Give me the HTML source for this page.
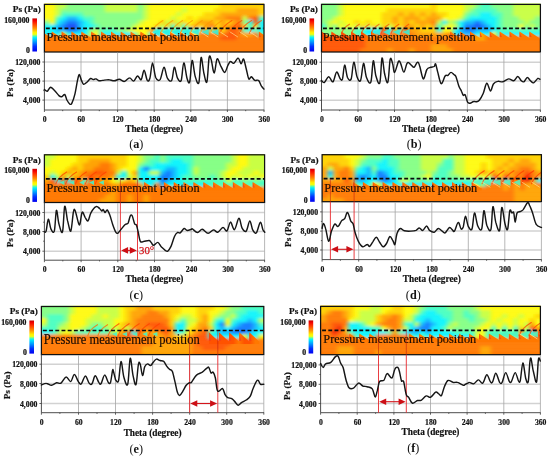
<!DOCTYPE html>
<html lang="en">
<head>
<meta charset="utf-8">
<title>Pressure measurement position</title>
<style>
html,body{margin:0;padding:0;background:#fff;}
body{width:550px;height:458px;overflow:hidden;}
svg{display:block;}
text{font-family:"Liberation Serif",serif;fill:#111;}
.b{font-weight:bold;stroke:#111;stroke-width:0.18px;}
.r{font-weight:normal;}
.g{stroke:#d2d2d2;stroke-width:1.5;fill:none;}
.v{stroke:#a4a4a4;stroke-width:0.8;fill:none;}
</style>
</head>
<body>
<svg width="550" height="458" viewBox="0 0 550 458">
<defs>
<linearGradient id="cb" x1="0" y1="0" x2="0" y2="1">
<stop offset="0" stop-color="#c00000"/>
<stop offset="0.06" stop-color="#f00000"/>
<stop offset="0.15" stop-color="#ff3000"/>
<stop offset="0.3" stop-color="#ff9000"/>
<stop offset="0.42" stop-color="#fff000"/>
<stop offset="0.48" stop-color="#f0ff10"/>
<stop offset="0.53" stop-color="#60ffa0"/>
<stop offset="0.58" stop-color="#00f0ff"/>
<stop offset="0.7" stop-color="#00a0ff"/>
<stop offset="0.85" stop-color="#0030ff"/>
<stop offset="1" stop-color="#0000f0"/>
</linearGradient>
<filter id="bl" x="-5%" y="-20%" width="110%" height="140%"><feGaussianBlur stdDeviation="0.8 1.4"/></filter>
</defs>
<rect width="550" height="458" fill="#fff"/>

<g>
<defs>
<linearGradient id="ga0" gradientUnits="userSpaceOnUse" x1="44.4" y1="0" x2="264.0" y2="0"><stop offset="0.0125" stop-color="#fffa08"/><stop offset="0.0375" stop-color="#fffa08"/><stop offset="0.0625" stop-color="#c8ff40"/><stop offset="0.0875" stop-color="#c8ff40"/><stop offset="0.1125" stop-color="#84ff84"/><stop offset="0.2625" stop-color="#84ff84"/><stop offset="0.2875" stop-color="#c8ff40"/><stop offset="0.4125" stop-color="#c8ff40"/><stop offset="0.4375" stop-color="#84ff84"/><stop offset="0.4625" stop-color="#c8ff40"/><stop offset="0.4875" stop-color="#fffa08"/><stop offset="0.7875" stop-color="#fffa08"/><stop offset="0.8125" stop-color="#ffd200"/><stop offset="0.9875" stop-color="#ffd200"/></linearGradient>
<linearGradient id="ga1" gradientUnits="userSpaceOnUse" x1="44.4" y1="0" x2="264.0" y2="0"><stop offset="0.0125" stop-color="#fffa08"/><stop offset="0.0375" stop-color="#fffa08"/><stop offset="0.0625" stop-color="#c8ff40"/><stop offset="0.0875" stop-color="#84ff84"/><stop offset="0.2625" stop-color="#84ff84"/><stop offset="0.2875" stop-color="#c8ff40"/><stop offset="0.4125" stop-color="#c8ff40"/><stop offset="0.4375" stop-color="#84ff84"/><stop offset="0.4625" stop-color="#c8ff40"/><stop offset="0.4875" stop-color="#fffa08"/><stop offset="0.6125" stop-color="#fffa08"/><stop offset="0.6375" stop-color="#c8ff40"/><stop offset="0.6625" stop-color="#fffa08"/><stop offset="0.7625" stop-color="#fffa08"/><stop offset="0.7875" stop-color="#ffd200"/><stop offset="0.8625" stop-color="#ffd200"/><stop offset="0.8875" stop-color="#ffa200"/><stop offset="0.9625" stop-color="#ffa200"/><stop offset="0.9875" stop-color="#ffd200"/></linearGradient>
<linearGradient id="ga2" gradientUnits="userSpaceOnUse" x1="44.4" y1="0" x2="264.0" y2="0"><stop offset="0.0125" stop-color="#fffa08"/><stop offset="0.0375" stop-color="#fffa08"/><stop offset="0.0625" stop-color="#c8ff40"/><stop offset="0.0875" stop-color="#48ffc0"/><stop offset="0.1625" stop-color="#48ffc0"/><stop offset="0.1875" stop-color="#84ff84"/><stop offset="0.4375" stop-color="#84ff84"/><stop offset="0.4625" stop-color="#c8ff40"/><stop offset="0.4875" stop-color="#fffa08"/><stop offset="0.5875" stop-color="#fffa08"/><stop offset="0.6125" stop-color="#c8ff40"/><stop offset="0.6375" stop-color="#fffa08"/><stop offset="0.7125" stop-color="#fffa08"/><stop offset="0.7375" stop-color="#ffd200"/><stop offset="0.7875" stop-color="#ffd200"/><stop offset="0.8125" stop-color="#ffa200"/><stop offset="0.9625" stop-color="#ffa200"/><stop offset="0.9875" stop-color="#ffd200"/></linearGradient>
<linearGradient id="ga3" gradientUnits="userSpaceOnUse" x1="44.4" y1="0" x2="264.0" y2="0"><stop offset="0.0125" stop-color="#fffa08"/><stop offset="0.0375" stop-color="#fffa08"/><stop offset="0.0625" stop-color="#48ffc0"/><stop offset="0.0875" stop-color="#0cf4fc"/><stop offset="0.1125" stop-color="#08b8ff"/><stop offset="0.1375" stop-color="#08b8ff"/><stop offset="0.1625" stop-color="#0cf4fc"/><stop offset="0.1875" stop-color="#48ffc0"/><stop offset="0.2125" stop-color="#48ffc0"/><stop offset="0.2375" stop-color="#84ff84"/><stop offset="0.4375" stop-color="#84ff84"/><stop offset="0.4625" stop-color="#c8ff40"/><stop offset="0.4875" stop-color="#fffa08"/><stop offset="0.5625" stop-color="#fffa08"/><stop offset="0.5875" stop-color="#c8ff40"/><stop offset="0.6125" stop-color="#fffa08"/><stop offset="0.6375" stop-color="#fffa08"/><stop offset="0.6625" stop-color="#ffd200"/><stop offset="0.6875" stop-color="#fffa08"/><stop offset="0.7125" stop-color="#ffd200"/><stop offset="0.7625" stop-color="#ffd200"/><stop offset="0.7875" stop-color="#ffa200"/><stop offset="0.8125" stop-color="#ffa200"/><stop offset="0.8375" stop-color="#ff7800"/><stop offset="0.8875" stop-color="#ff7800"/><stop offset="0.9125" stop-color="#c8ff40"/><stop offset="0.9375" stop-color="#ff7800"/><stop offset="0.9625" stop-color="#ff5200"/><stop offset="0.9875" stop-color="#48ffc0"/></linearGradient>
<linearGradient id="ga4" gradientUnits="userSpaceOnUse" x1="44.4" y1="0" x2="264.0" y2="0"><stop offset="0.0125" stop-color="#84ff84"/><stop offset="0.0375" stop-color="#fffa08"/><stop offset="0.0625" stop-color="#0cf4fc"/><stop offset="0.0875" stop-color="#08b8ff"/><stop offset="0.1125" stop-color="#0c78ff"/><stop offset="0.1375" stop-color="#0c78ff"/><stop offset="0.1625" stop-color="#08b8ff"/><stop offset="0.1875" stop-color="#0cf4fc"/><stop offset="0.2125" stop-color="#48ffc0"/><stop offset="0.2375" stop-color="#84ff84"/><stop offset="0.4125" stop-color="#84ff84"/><stop offset="0.4375" stop-color="#c8ff40"/><stop offset="0.4625" stop-color="#fffa08"/><stop offset="0.5125" stop-color="#fffa08"/><stop offset="0.5375" stop-color="#ffd200"/><stop offset="0.5625" stop-color="#c8ff40"/><stop offset="0.5875" stop-color="#ffd200"/><stop offset="0.6125" stop-color="#c8ff40"/><stop offset="0.6375" stop-color="#ffd200"/><stop offset="0.6625" stop-color="#fffa08"/><stop offset="0.6875" stop-color="#ffd200"/><stop offset="0.7125" stop-color="#ffa200"/><stop offset="0.7625" stop-color="#ffa200"/><stop offset="0.7875" stop-color="#ffd200"/><stop offset="0.8125" stop-color="#ffa200"/><stop offset="0.8375" stop-color="#ffd200"/><stop offset="0.8625" stop-color="#ffa200"/><stop offset="0.8875" stop-color="#ff7800"/><stop offset="0.9125" stop-color="#84ff84"/><stop offset="0.9375" stop-color="#0cf4fc"/><stop offset="0.9625" stop-color="#ff5200"/><stop offset="0.9875" stop-color="#0cf4fc"/></linearGradient>
<linearGradient id="ga5" gradientUnits="userSpaceOnUse" x1="44.4" y1="0" x2="264.0" y2="0"><stop offset="0.0125" stop-color="#0cf4fc"/><stop offset="0.0375" stop-color="#0cf4fc"/><stop offset="0.0625" stop-color="#08b8ff"/><stop offset="0.0875" stop-color="#0c78ff"/><stop offset="0.1125" stop-color="#1440f4"/><stop offset="0.1375" stop-color="#1440f4"/><stop offset="0.1625" stop-color="#08b8ff"/><stop offset="0.1875" stop-color="#0cf4fc"/><stop offset="0.2125" stop-color="#0cf4fc"/><stop offset="0.2375" stop-color="#48ffc0"/><stop offset="0.2625" stop-color="#84ff84"/><stop offset="0.3875" stop-color="#84ff84"/><stop offset="0.4125" stop-color="#c8ff40"/><stop offset="0.4375" stop-color="#fffa08"/><stop offset="0.4875" stop-color="#fffa08"/><stop offset="0.5125" stop-color="#ffd200"/><stop offset="0.5375" stop-color="#c8ff40"/><stop offset="0.5625" stop-color="#ffd200"/><stop offset="0.5875" stop-color="#48ffc0"/><stop offset="0.6125" stop-color="#ffd200"/><stop offset="0.6375" stop-color="#48ffc0"/><stop offset="0.6625" stop-color="#ffd200"/><stop offset="0.6875" stop-color="#ffa200"/><stop offset="0.7125" stop-color="#ffd200"/><stop offset="0.7375" stop-color="#ffa200"/><stop offset="0.7625" stop-color="#ff7800"/><stop offset="0.7875" stop-color="#ffd200"/><stop offset="0.8125" stop-color="#ffa200"/><stop offset="0.8375" stop-color="#ffa200"/><stop offset="0.8625" stop-color="#ff7800"/><stop offset="0.8875" stop-color="#ff5200"/><stop offset="0.9125" stop-color="#ffd200"/><stop offset="0.9375" stop-color="#48ffc0"/><stop offset="0.9625" stop-color="#ffd200"/><stop offset="0.9875" stop-color="#0cf4fc"/></linearGradient>
<linearGradient id="ga6" gradientUnits="userSpaceOnUse" x1="44.4" y1="0" x2="264.0" y2="0"><stop offset="0.0125" stop-color="#0cf4fc"/><stop offset="0.0375" stop-color="#0cf4fc"/><stop offset="0.0625" stop-color="#08b8ff"/><stop offset="0.0875" stop-color="#08b8ff"/><stop offset="0.1125" stop-color="#0c78ff"/><stop offset="0.1375" stop-color="#0c78ff"/><stop offset="0.1625" stop-color="#08b8ff"/><stop offset="0.1875" stop-color="#0cf4fc"/><stop offset="0.2125" stop-color="#84ff84"/><stop offset="0.2375" stop-color="#c8ff40"/><stop offset="0.2625" stop-color="#48ffc0"/><stop offset="0.3125" stop-color="#48ffc0"/><stop offset="0.3375" stop-color="#84ff84"/><stop offset="0.3625" stop-color="#84ff84"/><stop offset="0.3875" stop-color="#c8ff40"/><stop offset="0.4125" stop-color="#fffa08"/><stop offset="0.4625" stop-color="#fffa08"/><stop offset="0.4875" stop-color="#ffa200"/><stop offset="0.5125" stop-color="#0cf4fc"/><stop offset="0.5375" stop-color="#48ffc0"/><stop offset="0.5625" stop-color="#0cf4fc"/><stop offset="0.5875" stop-color="#48ffc0"/><stop offset="0.6125" stop-color="#0cf4fc"/><stop offset="0.6375" stop-color="#48ffc0"/><stop offset="0.6625" stop-color="#0cf4fc"/><stop offset="0.6875" stop-color="#48ffc0"/><stop offset="0.7125" stop-color="#0cf4fc"/><stop offset="0.7375" stop-color="#ffa200"/><stop offset="0.7625" stop-color="#48ffc0"/><stop offset="0.7875" stop-color="#ffa200"/><stop offset="0.8125" stop-color="#ffd200"/><stop offset="0.8375" stop-color="#ff7800"/><stop offset="0.8625" stop-color="#ff5200"/><stop offset="0.8875" stop-color="#ff7800"/><stop offset="0.9125" stop-color="#48ffc0"/><stop offset="0.9375" stop-color="#0cf4fc"/><stop offset="0.9625" stop-color="#48ffc0"/><stop offset="0.9875" stop-color="#0cf4fc"/></linearGradient>
<linearGradient id="ga7" gradientUnits="userSpaceOnUse" x1="44.4" y1="0" x2="264.0" y2="0"><stop offset="0.0125" stop-color="#0cf4fc"/><stop offset="0.0625" stop-color="#0cf4fc"/><stop offset="0.0875" stop-color="#c8ff40"/><stop offset="0.1125" stop-color="#0cf4fc"/><stop offset="0.1875" stop-color="#0cf4fc"/><stop offset="0.2125" stop-color="#c8ff40"/><stop offset="0.2375" stop-color="#fffa08"/><stop offset="0.2625" stop-color="#0cf4fc"/><stop offset="0.3875" stop-color="#0cf4fc"/><stop offset="0.4125" stop-color="#48ffc0"/><stop offset="0.4375" stop-color="#fffa08"/><stop offset="0.4625" stop-color="#fffa08"/><stop offset="0.4875" stop-color="#0cf4fc"/><stop offset="0.6375" stop-color="#0cf4fc"/><stop offset="0.6625" stop-color="#48ffc0"/><stop offset="0.6875" stop-color="#fffa08"/><stop offset="0.7125" stop-color="#ff7800"/><stop offset="0.8125" stop-color="#ff7800"/><stop offset="0.8375" stop-color="#ff5200"/><stop offset="0.8625" stop-color="#ff5200"/><stop offset="0.8875" stop-color="#ff7800"/><stop offset="0.9125" stop-color="#ffa200"/><stop offset="0.9375" stop-color="#ffa200"/><stop offset="0.9625" stop-color="#ff7800"/><stop offset="0.9875" stop-color="#48ffc0"/></linearGradient>
<linearGradient id="ga8" gradientUnits="userSpaceOnUse" x1="44.4" y1="0" x2="264.0" y2="0"><stop offset="0.0125" stop-color="#ff7800"/><stop offset="0.7875" stop-color="#ff7800"/><stop offset="0.8125" stop-color="#ff5200"/><stop offset="0.8625" stop-color="#ff5200"/><stop offset="0.8875" stop-color="#ff7800"/><stop offset="0.9875" stop-color="#ff7800"/></linearGradient>
<linearGradient id="ga9" gradientUnits="userSpaceOnUse" x1="44.4" y1="0" x2="264.0" y2="0"><stop offset="0.0125" stop-color="#ff7800"/><stop offset="0.9875" stop-color="#ff7800"/></linearGradient>
<linearGradient id="ga10" gradientUnits="userSpaceOnUse" x1="44.4" y1="0" x2="264.0" y2="0"><stop offset="0.0125" stop-color="#ff7800"/><stop offset="0.9875" stop-color="#ff7800"/></linearGradient>
<linearGradient id="ga11" gradientUnits="userSpaceOnUse" x1="44.4" y1="0" x2="264.0" y2="0"><stop offset="0.0125" stop-color="#ff7800"/><stop offset="0.9875" stop-color="#ff7800"/></linearGradient>
<clipPath id="cpa"><rect x="44.4" y="3.6" width="219.6" height="48.4"/></clipPath>
</defs>
<g clip-path="url(#cpa)">
<g filter="url(#bl)">
<rect x="36.4" y="-3.6" width="235.6" height="12.10" fill="url(#ga0)"/>
<rect x="36.4" y="8.3" width="235.6" height="4.10" fill="url(#ga1)"/>
<rect x="36.4" y="12.3" width="235.6" height="4.10" fill="url(#ga2)"/>
<rect x="36.4" y="16.3" width="235.6" height="4.10" fill="url(#ga3)"/>
<rect x="36.4" y="20.3" width="235.6" height="4.10" fill="url(#ga4)"/>
<rect x="36.4" y="24.3" width="235.6" height="4.10" fill="url(#ga5)"/>
<rect x="36.4" y="28.3" width="235.6" height="4.10" fill="url(#ga6)"/>
<rect x="36.4" y="32.4" width="235.6" height="4.10" fill="url(#ga7)"/>
<rect x="36.4" y="36.4" width="235.6" height="4.10" fill="url(#ga8)"/>
<rect x="36.4" y="40.4" width="235.6" height="4.10" fill="url(#ga9)"/>
<rect x="36.4" y="44.4" width="235.6" height="4.10" fill="url(#ga10)"/>
<rect x="36.4" y="48.4" width="235.6" height="14.10" fill="url(#ga11)"/>
</g>
<path d="M41.9,40.2V31.6L51.8,37.9V40.2zM51.8,40.2V31.6L61.7,37.9V40.2zM61.7,40.2V31.6L71.5,37.9V40.2zM71.5,40.2V31.6L81.4,37.9V40.2zM81.4,40.2V31.6L91.2,37.9V40.2zM91.2,40.2V31.6L101.1,37.9V40.2zM101.1,40.2V31.6L111.0,37.9V40.2zM111.0,40.2V31.6L120.8,37.9V40.2zM120.8,40.2V31.6L130.7,37.9V40.2zM130.7,40.2V31.6L140.5,37.9V40.2zM140.5,40.2V31.6L150.4,37.9V40.2zM150.4,40.2V31.6L160.3,37.9V40.2zM160.3,40.2V31.6L170.1,37.9V40.2zM170.1,40.2V31.6L180.0,37.9V40.2zM180.0,40.2V31.6L189.8,37.9V40.2zM189.8,40.2V31.6L199.7,37.9V40.2zM258.9,40.2V31.6L268.7,37.9V40.2z" fill="url(#ga8)"/>
<path d="M41.9,37.1V31.9L44.1,37.1zM51.8,37.1V31.9L54.0,37.1zM61.7,37.1V31.9L63.9,37.1zM71.5,37.1V31.9L73.7,37.1zM81.4,37.1V31.9L83.6,37.1zM91.2,37.1V31.9L93.4,37.1zM101.1,37.1V31.9L103.3,37.1zM111.0,37.1V31.9L113.2,37.1zM120.8,37.1V31.9L123.0,37.1zM130.7,37.1V31.9L132.9,37.1zM140.5,37.1V31.9L142.7,37.1zM150.4,37.1V31.9L152.6,37.1zM160.3,37.1V31.9L162.5,37.1zM170.1,37.1V31.9L172.3,37.1zM180.0,37.1V31.9L182.2,37.1zM189.8,37.1V31.9L192.0,37.1zM258.9,37.1V31.9L261.1,37.1z" fill="#f4401a" opacity="0.75"/>
<path d="M152.4,32.0L159.4,29.0V35.6zM162.3,32.0L169.2,29.0V35.6zM172.1,32.0L179.1,29.0V35.6zM182.0,32.0L188.9,29.0V35.6zM191.8,32.0L198.8,29.0V35.6zM201.7,32.0L208.7,29.0V35.6zM211.6,32.0L218.5,29.0V35.6z" fill="#30f0e0" opacity="0.85"/>
<path d="M150.7,33.5Q152.9,26.5 162.9,20.5M160.6,33.5Q162.8,26.5 172.8,20.5M170.4,33.5Q172.6,26.5 182.6,20.5M180.3,33.5Q182.5,26.5 192.5,20.5M190.1,33.5Q192.3,26.5 202.3,20.5M200.0,33.5Q202.2,26.5 212.2,20.5M209.9,33.5Q212.1,26.5 222.1,20.5" fill="none" stroke="#ff9a00" stroke-width="1.1" stroke-linecap="round" opacity="0.75"/>
<path d="M219.7,33.5Q221.9,26.5 231.9,20.5M229.6,33.5Q231.8,26.5 241.8,20.5M239.4,33.5Q241.6,26.5 251.6,20.5M249.3,33.5Q251.5,26.5 261.5,20.5" fill="none" stroke="#ff5000" stroke-width="1.1" stroke-linecap="round" opacity="0.75"/>
<path d="M150.9,31.8L159.0,37.0M160.8,31.8L168.9,37.0M170.6,31.8L178.7,37.0M180.5,31.8L188.6,37.0M190.3,31.8L198.4,37.0M200.2,31.8L208.3,37.0M210.1,31.8L218.2,37.0M219.9,31.8L228.0,37.0M229.8,31.8L237.9,37.0M239.6,31.8L247.7,37.0M249.5,31.8L257.6,37.0" fill="none" stroke="#fff0a0" stroke-width="0.7" opacity="0.85"/>
</g>
<line x1="45.9" y1="28.4" x2="263.5" y2="28.4" stroke="#0a0a0a" stroke-width="1.7" stroke-dasharray="3.9 2.3"/>
<rect x="44.4" y="4.4" width="219.6" height="47.6" fill="none" stroke="#111" stroke-width="1.25"/>
<text transform="translate(46.6,41.4) scale(1,1.09)" font-size="12.30" class="r" style="fill:#1c0c04;stroke:#1c0c04;stroke-width:0.18">Pressure measurement position</text>
<text x="40.8" y="12.2" font-size="9.25" class="b" text-anchor="end">Ps (Pa)</text>
<rect x="32.4" y="18.4" width="4.6" height="33.1" fill="url(#cb)"/>
<text transform="translate(29.4,22.8) scale(1.08,1)" font-size="7.2" class="b" text-anchor="end" style="stroke:#111;stroke-width:0.22">160,000</text>
<text transform="translate(30.0,53.0) scale(1.08,1)" font-size="7.2" class="b" text-anchor="end" style="stroke:#111;stroke-width:0.22">0</text>
<line x1="44.4" y1="62.0" x2="264.0" y2="62.0" class="g"/>
<line x1="44.4" y1="81.1" x2="264.0" y2="81.1" class="g"/>
<line x1="44.4" y1="100.1" x2="264.0" y2="100.1" class="g"/>
<line x1="81.0" y1="52.6" x2="81.0" y2="110.0" class="v"/>
<line x1="117.6" y1="52.6" x2="117.6" y2="110.0" class="v"/>
<line x1="154.2" y1="52.6" x2="154.2" y2="110.0" class="v"/>
<line x1="190.8" y1="52.6" x2="190.8" y2="110.0" class="v"/>
<line x1="227.4" y1="52.6" x2="227.4" y2="110.0" class="v"/>
<line x1="264.0" y1="52.6" x2="264.0" y2="110.0" class="v"/>
<path d="M44.4,52.0V110.0H264.3" fill="none" stroke="#3a3a3a" stroke-width="0.9"/>
<path d="M44.4,62.0h-2M44.4,81.1h-2M44.4,100.1h-2M44.4,71.5h-1.2M44.4,90.6h-1.2M44.4,110.0v2M81.0,110.0v2M117.6,110.0v2M154.2,110.0v2M190.8,110.0v2M227.4,110.0v2M264.0,110.0v2M62.7,110.0v1.2M99.3,110.0v1.2M135.9,110.0v1.2M172.5,110.0v1.2M209.1,110.0v1.2M245.7,110.0v1.2" stroke="#3a3a3a" stroke-width="0.8" fill="none"/>
<text transform="translate(40.4,65.0) scale(1.08,1)" font-size="7.2" class="b" text-anchor="end" style="stroke:#111;stroke-width:0.22">120,000</text>
<text transform="translate(40.4,84.1) scale(1.08,1)" font-size="7.2" class="b" text-anchor="end" style="stroke:#111;stroke-width:0.22">8,000</text>
<text transform="translate(40.4,103.1) scale(1.08,1)" font-size="7.2" class="b" text-anchor="end" style="stroke:#111;stroke-width:0.22">4,000</text>
<text transform="translate(13.4,83.0) rotate(-90)" font-size="9.2" class="b" text-anchor="middle">Ps (Pa)</text>
<text x="44.7" y="121.8" font-size="7.7" class="b" text-anchor="middle">0</text>
<text x="81.3" y="121.8" font-size="7.7" class="b" text-anchor="middle">60</text>
<text x="117.9" y="121.8" font-size="7.7" class="b" text-anchor="middle">120</text>
<text x="154.5" y="121.8" font-size="7.7" class="b" text-anchor="middle">180</text>
<text x="191.1" y="121.8" font-size="7.7" class="b" text-anchor="middle">240</text>
<text x="227.7" y="121.8" font-size="7.7" class="b" text-anchor="middle">300</text>
<text x="264.3" y="121.8" font-size="7.7" class="b" text-anchor="middle">360</text>
<text x="154.2" y="131.6" font-size="9.3" class="b" text-anchor="middle">Theta (degree)</text>
<path d="M44.4,89.5C44.8,89.8 46.3,91.6 47.3,91.3C48.3,90.9 49.3,87.5 50.5,87.3C51.7,87.2 53.1,89.2 54.5,90.5C56.0,91.9 57.7,94.6 58.9,95.6C60.1,96.7 60.8,96.8 61.8,96.7C62.8,96.5 63.9,93.9 64.7,94.5C65.6,95.0 66.1,98.4 66.9,100.0C67.8,101.6 69.0,103.6 69.8,104.1C70.7,104.6 71.2,104.6 72.0,102.9C72.8,101.3 74.0,97.9 74.9,94.2C75.8,90.4 76.8,83.6 77.5,80.4C78.3,77.1 78.6,74.5 79.3,74.5C79.9,74.5 80.7,78.7 81.5,80.4C82.2,82.0 82.8,83.9 83.6,84.3C84.5,84.7 85.4,83.5 86.5,82.5C87.7,81.6 89.5,79.0 90.6,78.5C91.7,78.0 92.2,79.6 93.1,79.6C94.0,79.7 95.0,78.7 96.0,78.9C97.0,79.1 97.8,80.6 98.9,80.8C100.0,81.0 101.0,80.6 102.5,80.4C104.1,80.2 106.4,79.6 108.4,79.6C110.3,79.7 112.4,80.8 114.2,80.8C116.0,80.8 117.6,79.2 119.3,79.3C121.0,79.4 122.7,81.6 124.5,81.4C126.2,81.1 128.0,77.9 129.5,77.9C131.1,77.8 132.3,81.4 133.6,81.1C135.0,80.8 136.3,76.2 137.5,76.0C138.8,75.8 140.1,80.6 141.2,79.6C142.3,78.7 143.1,70.1 144.1,70.2C145.1,70.3 146.3,79.0 147.3,80.4C148.3,81.7 149.0,81.1 149.9,78.2C150.8,75.3 151.6,63.0 152.5,62.9C153.5,62.8 154.5,74.7 155.7,77.5C157.0,80.2 158.7,81.3 160.1,79.6C161.5,77.9 162.8,67.5 164.0,67.3C165.2,67.0 166.1,76.0 167.4,78.2C168.6,80.4 170.6,82.2 171.7,80.4C172.9,78.5 173.4,67.6 174.3,67.3C175.3,66.9 176.4,76.0 177.5,78.2C178.7,80.4 180.1,82.9 181.2,80.4C182.2,77.8 182.8,63.3 183.8,62.9C184.8,62.5 186.0,75.0 187.0,78.2C188.0,81.3 188.9,84.8 189.7,81.8C190.6,78.9 191.2,61.3 192.1,60.4C193.0,59.6 194.1,73.0 195.3,76.7C196.4,80.4 197.9,85.7 198.9,82.5C199.9,79.3 200.2,59.0 201.1,57.5C201.9,56.1 203.0,69.8 204.0,73.8C205.0,77.9 206.1,84.5 206.9,81.8C207.8,79.1 208.4,61.2 209.1,57.5C209.8,53.9 210.4,57.4 211.3,60.0C212.1,62.6 213.2,73.3 214.2,73.1C215.2,72.9 216.0,60.2 217.1,59.0C218.2,57.8 219.5,63.6 220.7,65.8C222.0,68.0 223.4,72.5 224.7,72.4C225.9,72.2 227.0,66.9 228.0,65.1C229.0,63.3 229.5,61.7 230.5,61.5C231.4,61.2 232.5,63.9 233.8,63.3C235.1,62.8 237.0,58.0 238.2,58.1C239.4,58.2 240.2,63.8 241.1,63.9C242.0,64.1 242.7,58.2 243.6,59.0C244.4,59.8 245.3,65.4 246.2,68.7C247.1,72.0 248.0,77.6 248.8,78.9C249.6,80.2 250.3,76.5 251.3,76.7C252.3,77.0 253.7,79.8 254.9,80.4C256.1,81.0 257.5,79.4 258.5,80.4C259.6,81.3 260.6,84.7 261.5,86.2C262.4,87.6 263.5,88.6 263.9,89.1" fill="none" stroke="#161616" stroke-width="1.45" stroke-linejoin="round" stroke-linecap="round"/>
<text x="136.3" y="148.3" font-size="12.2" class="r" text-anchor="middle">(<tspan style="font-weight:bold">a</tspan>)</text>
</g>
<g>
<defs>
<linearGradient id="gb0" gradientUnits="userSpaceOnUse" x1="321.5" y1="0" x2="540.4" y2="0"><stop offset="0.0125" stop-color="#84ff84"/><stop offset="0.0625" stop-color="#84ff84"/><stop offset="0.0875" stop-color="#c8ff40"/><stop offset="0.1125" stop-color="#fffa08"/><stop offset="0.4875" stop-color="#fffa08"/><stop offset="0.5125" stop-color="#ffd200"/><stop offset="0.5375" stop-color="#fffa08"/><stop offset="0.6375" stop-color="#fffa08"/><stop offset="0.6625" stop-color="#c8ff40"/><stop offset="0.6875" stop-color="#c8ff40"/><stop offset="0.7125" stop-color="#84ff84"/><stop offset="0.7375" stop-color="#48ffc0"/><stop offset="0.7625" stop-color="#48ffc0"/><stop offset="0.7875" stop-color="#84ff84"/><stop offset="0.8625" stop-color="#84ff84"/><stop offset="0.8875" stop-color="#c8ff40"/><stop offset="0.9875" stop-color="#c8ff40"/></linearGradient>
<linearGradient id="gb1" gradientUnits="userSpaceOnUse" x1="321.5" y1="0" x2="540.4" y2="0"><stop offset="0.0125" stop-color="#84ff84"/><stop offset="0.0625" stop-color="#84ff84"/><stop offset="0.0875" stop-color="#c8ff40"/><stop offset="0.1125" stop-color="#fffa08"/><stop offset="0.2875" stop-color="#fffa08"/><stop offset="0.3125" stop-color="#ffd200"/><stop offset="0.5125" stop-color="#ffd200"/><stop offset="0.5375" stop-color="#fffa08"/><stop offset="0.6375" stop-color="#fffa08"/><stop offset="0.6625" stop-color="#c8ff40"/><stop offset="0.6875" stop-color="#84ff84"/><stop offset="0.7125" stop-color="#48ffc0"/><stop offset="0.7875" stop-color="#48ffc0"/><stop offset="0.8125" stop-color="#84ff84"/><stop offset="0.8625" stop-color="#84ff84"/><stop offset="0.8875" stop-color="#c8ff40"/><stop offset="0.9875" stop-color="#c8ff40"/></linearGradient>
<linearGradient id="gb2" gradientUnits="userSpaceOnUse" x1="321.5" y1="0" x2="540.4" y2="0"><stop offset="0.0125" stop-color="#84ff84"/><stop offset="0.0625" stop-color="#84ff84"/><stop offset="0.0875" stop-color="#c8ff40"/><stop offset="0.1125" stop-color="#fffa08"/><stop offset="0.2625" stop-color="#fffa08"/><stop offset="0.2875" stop-color="#ffd200"/><stop offset="0.3375" stop-color="#ffd200"/><stop offset="0.3625" stop-color="#ffa200"/><stop offset="0.3875" stop-color="#ffd200"/><stop offset="0.4125" stop-color="#ffa200"/><stop offset="0.4375" stop-color="#ffd200"/><stop offset="0.4625" stop-color="#ffa200"/><stop offset="0.4875" stop-color="#ffd200"/><stop offset="0.5125" stop-color="#ffa200"/><stop offset="0.5375" stop-color="#ffd200"/><stop offset="0.5625" stop-color="#ffd200"/><stop offset="0.5875" stop-color="#fffa08"/><stop offset="0.6375" stop-color="#fffa08"/><stop offset="0.6625" stop-color="#84ff84"/><stop offset="0.6875" stop-color="#48ffc0"/><stop offset="0.7125" stop-color="#48ffc0"/><stop offset="0.7375" stop-color="#0cf4fc"/><stop offset="0.7625" stop-color="#0cf4fc"/><stop offset="0.7875" stop-color="#48ffc0"/><stop offset="0.8125" stop-color="#48ffc0"/><stop offset="0.8375" stop-color="#84ff84"/><stop offset="0.8625" stop-color="#84ff84"/><stop offset="0.8875" stop-color="#c8ff40"/><stop offset="0.9875" stop-color="#c8ff40"/></linearGradient>
<linearGradient id="gb3" gradientUnits="userSpaceOnUse" x1="321.5" y1="0" x2="540.4" y2="0"><stop offset="0.0125" stop-color="#84ff84"/><stop offset="0.0375" stop-color="#84ff84"/><stop offset="0.0625" stop-color="#c8ff40"/><stop offset="0.0875" stop-color="#fffa08"/><stop offset="0.2625" stop-color="#fffa08"/><stop offset="0.2875" stop-color="#ffd200"/><stop offset="0.3125" stop-color="#ffd200"/><stop offset="0.3375" stop-color="#ffa200"/><stop offset="0.3625" stop-color="#ffd200"/><stop offset="0.3875" stop-color="#ffa200"/><stop offset="0.4375" stop-color="#ffa200"/><stop offset="0.4625" stop-color="#ffd200"/><stop offset="0.4875" stop-color="#ffa200"/><stop offset="0.5375" stop-color="#ffa200"/><stop offset="0.5625" stop-color="#fffa08"/><stop offset="0.6125" stop-color="#fffa08"/><stop offset="0.6375" stop-color="#c8ff40"/><stop offset="0.6625" stop-color="#48ffc0"/><stop offset="0.6875" stop-color="#0cf4fc"/><stop offset="0.7875" stop-color="#0cf4fc"/><stop offset="0.8125" stop-color="#48ffc0"/><stop offset="0.8375" stop-color="#84ff84"/><stop offset="0.8875" stop-color="#84ff84"/><stop offset="0.9125" stop-color="#c8ff40"/><stop offset="0.9625" stop-color="#c8ff40"/><stop offset="0.9875" stop-color="#84ff84"/></linearGradient>
<linearGradient id="gb4" gradientUnits="userSpaceOnUse" x1="321.5" y1="0" x2="540.4" y2="0"><stop offset="0.0125" stop-color="#84ff84"/><stop offset="0.0375" stop-color="#c8ff40"/><stop offset="0.0625" stop-color="#fffa08"/><stop offset="0.0875" stop-color="#c8ff40"/><stop offset="0.1125" stop-color="#fffa08"/><stop offset="0.1375" stop-color="#fffa08"/><stop offset="0.1625" stop-color="#ffd200"/><stop offset="0.1875" stop-color="#fffa08"/><stop offset="0.2125" stop-color="#ffd200"/><stop offset="0.2375" stop-color="#fffa08"/><stop offset="0.2625" stop-color="#fffa08"/><stop offset="0.2875" stop-color="#ffd200"/><stop offset="0.3125" stop-color="#ffd200"/><stop offset="0.3375" stop-color="#ffa200"/><stop offset="0.3625" stop-color="#ffd200"/><stop offset="0.3875" stop-color="#ffa200"/><stop offset="0.4125" stop-color="#ffd200"/><stop offset="0.4375" stop-color="#ffa200"/><stop offset="0.4875" stop-color="#ffa200"/><stop offset="0.5125" stop-color="#ff7800"/><stop offset="0.5375" stop-color="#c8ff40"/><stop offset="0.5625" stop-color="#0cf4fc"/><stop offset="0.5875" stop-color="#c8ff40"/><stop offset="0.6125" stop-color="#84ff84"/><stop offset="0.6375" stop-color="#0cf4fc"/><stop offset="0.6625" stop-color="#08b8ff"/><stop offset="0.6875" stop-color="#08b8ff"/><stop offset="0.7125" stop-color="#0c78ff"/><stop offset="0.7375" stop-color="#08b8ff"/><stop offset="0.7625" stop-color="#0cf4fc"/><stop offset="0.7875" stop-color="#0cf4fc"/><stop offset="0.8125" stop-color="#48ffc0"/><stop offset="0.8375" stop-color="#84ff84"/><stop offset="0.9125" stop-color="#84ff84"/><stop offset="0.9375" stop-color="#c8ff40"/><stop offset="0.9625" stop-color="#84ff84"/><stop offset="0.9875" stop-color="#84ff84"/></linearGradient>
<linearGradient id="gb5" gradientUnits="userSpaceOnUse" x1="321.5" y1="0" x2="540.4" y2="0"><stop offset="0.0125" stop-color="#48ffc0"/><stop offset="0.0375" stop-color="#c8ff40"/><stop offset="0.0625" stop-color="#84ff84"/><stop offset="0.0875" stop-color="#fffa08"/><stop offset="0.1125" stop-color="#c8ff40"/><stop offset="0.1375" stop-color="#fffa08"/><stop offset="0.1625" stop-color="#c8ff40"/><stop offset="0.1875" stop-color="#ffd200"/><stop offset="0.2125" stop-color="#c8ff40"/><stop offset="0.2375" stop-color="#ffd200"/><stop offset="0.2625" stop-color="#c8ff40"/><stop offset="0.2875" stop-color="#ffd200"/><stop offset="0.3125" stop-color="#c8ff40"/><stop offset="0.3375" stop-color="#ffd200"/><stop offset="0.3625" stop-color="#ffd200"/><stop offset="0.3875" stop-color="#ffa200"/><stop offset="0.4125" stop-color="#ffa200"/><stop offset="0.4375" stop-color="#ffd200"/><stop offset="0.4625" stop-color="#ffa200"/><stop offset="0.4875" stop-color="#ffd200"/><stop offset="0.5125" stop-color="#ffa200"/><stop offset="0.5375" stop-color="#48ffc0"/><stop offset="0.5625" stop-color="#c8ff40"/><stop offset="0.5875" stop-color="#fffa08"/><stop offset="0.6125" stop-color="#c8ff40"/><stop offset="0.6375" stop-color="#0cf4fc"/><stop offset="0.6625" stop-color="#0c78ff"/><stop offset="0.6875" stop-color="#0c78ff"/><stop offset="0.7125" stop-color="#1440f4"/><stop offset="0.7375" stop-color="#0c78ff"/><stop offset="0.7625" stop-color="#08b8ff"/><stop offset="0.7875" stop-color="#0cf4fc"/><stop offset="0.8125" stop-color="#48ffc0"/><stop offset="0.8375" stop-color="#84ff84"/><stop offset="0.8875" stop-color="#84ff84"/><stop offset="0.9125" stop-color="#fffa08"/><stop offset="0.9375" stop-color="#84ff84"/><stop offset="0.9625" stop-color="#c8ff40"/><stop offset="0.9875" stop-color="#84ff84"/></linearGradient>
<linearGradient id="gb6" gradientUnits="userSpaceOnUse" x1="321.5" y1="0" x2="540.4" y2="0"><stop offset="0.0125" stop-color="#84ff84"/><stop offset="0.1375" stop-color="#84ff84"/><stop offset="0.1625" stop-color="#48ffc0"/><stop offset="0.1875" stop-color="#48ffc0"/><stop offset="0.2125" stop-color="#0cf4fc"/><stop offset="0.2625" stop-color="#0cf4fc"/><stop offset="0.2875" stop-color="#ff5200"/><stop offset="0.3125" stop-color="#0cf4fc"/><stop offset="0.3375" stop-color="#ffa200"/><stop offset="0.3625" stop-color="#48ffc0"/><stop offset="0.3875" stop-color="#ff5200"/><stop offset="0.4125" stop-color="#ffa200"/><stop offset="0.4375" stop-color="#ffa200"/><stop offset="0.4625" stop-color="#ffd200"/><stop offset="0.5125" stop-color="#ffd200"/><stop offset="0.5375" stop-color="#0cf4fc"/><stop offset="0.5625" stop-color="#fffa08"/><stop offset="0.5875" stop-color="#fffa08"/><stop offset="0.6125" stop-color="#0cf4fc"/><stop offset="0.6375" stop-color="#08b8ff"/><stop offset="0.6625" stop-color="#0c78ff"/><stop offset="0.6875" stop-color="#0c78ff"/><stop offset="0.7125" stop-color="#08b8ff"/><stop offset="0.7625" stop-color="#08b8ff"/><stop offset="0.7875" stop-color="#0cf4fc"/><stop offset="0.8125" stop-color="#48ffc0"/><stop offset="0.9875" stop-color="#48ffc0"/></linearGradient>
<linearGradient id="gb7" gradientUnits="userSpaceOnUse" x1="321.5" y1="0" x2="540.4" y2="0"><stop offset="0.0125" stop-color="#84ff84"/><stop offset="0.1375" stop-color="#84ff84"/><stop offset="0.1625" stop-color="#48ffc0"/><stop offset="0.1875" stop-color="#48ffc0"/><stop offset="0.2125" stop-color="#0cf4fc"/><stop offset="0.2375" stop-color="#0cf4fc"/><stop offset="0.2625" stop-color="#ff5200"/><stop offset="0.2875" stop-color="#ff5200"/><stop offset="0.3125" stop-color="#ff7800"/><stop offset="0.4125" stop-color="#ff7800"/><stop offset="0.4375" stop-color="#ffa200"/><stop offset="0.5625" stop-color="#ffa200"/><stop offset="0.5875" stop-color="#ff7800"/><stop offset="0.6125" stop-color="#0cf4fc"/><stop offset="0.6375" stop-color="#08b8ff"/><stop offset="0.6875" stop-color="#08b8ff"/><stop offset="0.7125" stop-color="#0cf4fc"/><stop offset="0.7625" stop-color="#0cf4fc"/><stop offset="0.7875" stop-color="#fffa08"/><stop offset="0.8125" stop-color="#0cf4fc"/><stop offset="0.9875" stop-color="#0cf4fc"/></linearGradient>
<linearGradient id="gb8" gradientUnits="userSpaceOnUse" x1="321.5" y1="0" x2="540.4" y2="0"><stop offset="0.0125" stop-color="#ff5200"/><stop offset="0.1875" stop-color="#ff5200"/><stop offset="0.2125" stop-color="#ff7800"/><stop offset="0.6875" stop-color="#ff7800"/><stop offset="0.7125" stop-color="#ffa200"/><stop offset="0.7375" stop-color="#ffa200"/><stop offset="0.7625" stop-color="#ff7800"/><stop offset="0.9875" stop-color="#ff7800"/></linearGradient>
<linearGradient id="gb9" gradientUnits="userSpaceOnUse" x1="321.5" y1="0" x2="540.4" y2="0"><stop offset="0.0125" stop-color="#ff5200"/><stop offset="0.1875" stop-color="#ff5200"/><stop offset="0.2125" stop-color="#ff7800"/><stop offset="0.9875" stop-color="#ff7800"/></linearGradient>
<linearGradient id="gb10" gradientUnits="userSpaceOnUse" x1="321.5" y1="0" x2="540.4" y2="0"><stop offset="0.0125" stop-color="#ff5200"/><stop offset="0.1875" stop-color="#ff5200"/><stop offset="0.2125" stop-color="#ff7800"/><stop offset="0.4875" stop-color="#ff7800"/><stop offset="0.5125" stop-color="#ffa200"/><stop offset="0.5625" stop-color="#ffa200"/><stop offset="0.5875" stop-color="#ff7800"/><stop offset="0.9875" stop-color="#ff7800"/></linearGradient>
<linearGradient id="gb11" gradientUnits="userSpaceOnUse" x1="321.5" y1="0" x2="540.4" y2="0"><stop offset="0.0125" stop-color="#ff5200"/><stop offset="0.1625" stop-color="#ff5200"/><stop offset="0.1875" stop-color="#ff7800"/><stop offset="0.2875" stop-color="#ff7800"/><stop offset="0.3125" stop-color="#ffa200"/><stop offset="0.3375" stop-color="#ff7800"/><stop offset="0.3875" stop-color="#ff7800"/><stop offset="0.4125" stop-color="#ffa200"/><stop offset="0.4375" stop-color="#ff7800"/><stop offset="0.4875" stop-color="#ff7800"/><stop offset="0.5125" stop-color="#ffa200"/><stop offset="0.5875" stop-color="#ffa200"/><stop offset="0.6125" stop-color="#ff7800"/><stop offset="0.9875" stop-color="#ff7800"/></linearGradient>
<clipPath id="cpb"><rect x="321.5" y="3.6" width="218.9" height="48.4"/></clipPath>
</defs>
<g clip-path="url(#cpb)">
<g filter="url(#bl)">
<rect x="313.5" y="-3.6" width="234.9" height="12.10" fill="url(#gb0)"/>
<rect x="313.5" y="8.3" width="234.9" height="4.10" fill="url(#gb1)"/>
<rect x="313.5" y="12.3" width="234.9" height="4.10" fill="url(#gb2)"/>
<rect x="313.5" y="16.3" width="234.9" height="4.10" fill="url(#gb3)"/>
<rect x="313.5" y="20.3" width="234.9" height="4.10" fill="url(#gb4)"/>
<rect x="313.5" y="24.3" width="234.9" height="4.10" fill="url(#gb5)"/>
<rect x="313.5" y="28.3" width="234.9" height="4.10" fill="url(#gb6)"/>
<rect x="313.5" y="32.4" width="234.9" height="4.10" fill="url(#gb7)"/>
<rect x="313.5" y="36.4" width="234.9" height="4.10" fill="url(#gb8)"/>
<rect x="313.5" y="40.4" width="234.9" height="4.10" fill="url(#gb9)"/>
<rect x="313.5" y="44.4" width="234.9" height="4.10" fill="url(#gb10)"/>
<rect x="313.5" y="48.4" width="234.9" height="14.10" fill="url(#gb11)"/>
</g>
<path d="M311.6,40.2V31.6L321.5,37.9V40.2zM321.5,40.2V31.6L331.4,37.9V40.2zM331.4,40.2V31.6L341.3,37.9V40.2zM341.3,40.2V31.6L351.2,37.9V40.2zM351.2,40.2V31.6L361.1,37.9V40.2zM361.1,40.2V31.6L371.0,37.9V40.2zM371.0,40.2V31.6L380.9,37.9V40.2zM450.2,40.2V31.6L460.1,37.9V40.2zM460.1,40.2V31.6L470.0,37.9V40.2zM470.0,40.2V31.6L479.9,37.9V40.2zM479.9,40.2V31.6L489.8,37.9V40.2zM489.8,40.2V31.6L499.7,37.9V40.2zM499.7,40.2V31.6L509.6,37.9V40.2zM509.6,40.2V31.6L519.5,37.9V40.2zM519.5,40.2V31.6L529.4,37.9V40.2zM529.4,40.2V31.6L539.3,37.9V40.2z" fill="url(#gb8)"/>
<path d="M311.6,37.1V31.9L313.8,37.1zM321.5,37.1V31.9L323.7,37.1zM331.4,37.1V31.9L333.6,37.1zM341.3,37.1V31.9L343.5,37.1zM351.2,37.1V31.9L353.4,37.1zM361.1,37.1V31.9L363.3,37.1zM371.0,37.1V31.9L373.2,37.1zM450.2,37.1V31.9L452.4,37.1zM460.1,37.1V31.9L462.3,37.1zM470.0,37.1V31.9L472.2,37.1zM479.9,37.1V31.9L482.1,37.1zM489.8,37.1V31.9L492.0,37.1zM499.7,37.1V31.9L501.9,37.1zM509.6,37.1V31.9L511.8,37.1zM519.5,37.1V31.9L521.7,37.1zM529.4,37.1V31.9L531.6,37.1z" fill="#f4401a" opacity="0.75"/>
<path d="M373.0,32.0L380.0,29.0V35.6zM382.9,32.0L389.9,29.0V35.6zM392.8,32.0L399.8,29.0V35.6zM402.7,32.0L409.7,29.0V35.6z" fill="#30f0e0" opacity="0.85"/>
<path d="M341.6,33.5Q342.9,28.1 349.4,24.2M351.5,33.5Q352.8,28.1 359.3,24.2M361.4,33.5Q362.7,28.1 369.2,24.2M371.3,33.5Q372.6,28.1 379.1,24.2M381.2,33.5Q382.5,28.1 389.0,24.2M391.1,33.5Q392.4,28.1 398.9,24.2M401.0,33.5Q402.3,28.1 408.8,24.2" fill="none" stroke="#ff4a00" stroke-width="1.1" stroke-linecap="round" opacity="0.75"/>
</g>
<line x1="323.0" y1="28.4" x2="539.9" y2="28.4" stroke="#0a0a0a" stroke-width="1.7" stroke-dasharray="3.9 2.3"/>
<rect x="321.5" y="4.4" width="218.9" height="47.6" fill="none" stroke="#111" stroke-width="1.25"/>
<text transform="translate(322.8,41.4) scale(1,1.09)" font-size="12.30" class="r" style="fill:#1c0c04;stroke:#1c0c04;stroke-width:0.18">Pressure measurement position</text>
<text x="317.9" y="12.2" font-size="9.25" class="b" text-anchor="end">Ps (Pa)</text>
<rect x="309.5" y="18.4" width="4.6" height="33.1" fill="url(#cb)"/>
<text transform="translate(306.5,22.8) scale(1.08,1)" font-size="7.2" class="b" text-anchor="end" style="stroke:#111;stroke-width:0.22">160,000</text>
<text transform="translate(307.1,53.0) scale(1.08,1)" font-size="7.2" class="b" text-anchor="end" style="stroke:#111;stroke-width:0.22">0</text>
<line x1="321.5" y1="62.2" x2="540.4" y2="62.2" class="g"/>
<line x1="321.5" y1="81.1" x2="540.4" y2="81.1" class="g"/>
<line x1="321.5" y1="100.3" x2="540.4" y2="100.3" class="g"/>
<line x1="358.0" y1="52.6" x2="358.0" y2="110.0" class="v"/>
<line x1="394.5" y1="52.6" x2="394.5" y2="110.0" class="v"/>
<line x1="430.9" y1="52.6" x2="430.9" y2="110.0" class="v"/>
<line x1="467.4" y1="52.6" x2="467.4" y2="110.0" class="v"/>
<line x1="503.9" y1="52.6" x2="503.9" y2="110.0" class="v"/>
<line x1="540.4" y1="52.6" x2="540.4" y2="110.0" class="v"/>
<path d="M321.5,52.0V110.0H540.7" fill="none" stroke="#3a3a3a" stroke-width="0.9"/>
<path d="M321.5,62.2h-2M321.5,81.1h-2M321.5,100.3h-2M321.5,71.7h-1.2M321.5,90.6h-1.2M321.5,110.0v2M358.0,110.0v2M394.5,110.0v2M430.9,110.0v2M467.4,110.0v2M503.9,110.0v2M540.4,110.0v2M339.7,110.0v1.2M376.2,110.0v1.2M412.7,110.0v1.2M449.2,110.0v1.2M485.7,110.0v1.2M522.2,110.0v1.2" stroke="#3a3a3a" stroke-width="0.8" fill="none"/>
<text transform="translate(317.5,65.2) scale(1.08,1)" font-size="7.2" class="b" text-anchor="end" style="stroke:#111;stroke-width:0.22">120,000</text>
<text transform="translate(317.5,84.1) scale(1.08,1)" font-size="7.2" class="b" text-anchor="end" style="stroke:#111;stroke-width:0.22">8,000</text>
<text transform="translate(317.5,103.3) scale(1.08,1)" font-size="7.2" class="b" text-anchor="end" style="stroke:#111;stroke-width:0.22">4,000</text>
<text transform="translate(290.5,83.0) rotate(-90)" font-size="9.2" class="b" text-anchor="middle">Ps (Pa)</text>
<text x="321.8" y="121.8" font-size="7.7" class="b" text-anchor="middle">0</text>
<text x="358.3" y="121.8" font-size="7.7" class="b" text-anchor="middle">60</text>
<text x="394.8" y="121.8" font-size="7.7" class="b" text-anchor="middle">120</text>
<text x="431.2" y="121.8" font-size="7.7" class="b" text-anchor="middle">180</text>
<text x="467.7" y="121.8" font-size="7.7" class="b" text-anchor="middle">240</text>
<text x="504.2" y="121.8" font-size="7.7" class="b" text-anchor="middle">300</text>
<text x="540.7" y="121.8" font-size="7.7" class="b" text-anchor="middle">360</text>
<text x="430.9" y="131.6" font-size="9.3" class="b" text-anchor="middle">Theta (degree)</text>
<path d="M321.4,80.4C321.8,80.7 323.1,83.2 324.3,82.5C325.5,81.9 327.2,76.8 328.6,76.7C330.1,76.6 331.7,82.6 333.0,81.8C334.3,81.0 335.4,72.6 336.6,72.1C337.8,71.6 339.3,77.8 340.3,78.9C341.2,80.0 341.7,81.2 342.5,78.9C343.2,76.6 343.8,65.3 344.6,65.1C345.5,64.8 346.5,75.2 347.5,77.5C348.6,79.8 350.1,81.5 351.2,78.9C352.2,76.4 352.8,62.5 353.8,62.2C354.8,61.8 355.9,73.7 357.0,76.7C358.1,79.8 359.5,82.6 360.6,80.4C361.7,78.1 362.6,63.8 363.5,63.3C364.5,62.9 365.2,74.3 366.5,77.5C367.7,80.6 369.7,85.0 370.8,82.3C372.0,79.5 372.4,61.8 373.3,60.7C374.1,59.7 374.8,72.3 375.9,76.0C377.0,79.7 378.8,85.8 379.8,82.8C380.9,79.9 381.2,59.6 382.0,58.1C382.8,56.6 383.7,69.8 384.6,73.8C385.6,77.8 386.9,84.7 387.8,82.3C388.8,79.8 389.4,62.4 390.2,59.3C391.0,56.2 391.9,61.5 392.6,63.6C393.4,65.8 393.6,72.7 394.6,72.4C395.6,72.0 397.5,62.9 398.5,61.5C399.6,60.0 399.8,61.9 400.7,63.6C401.6,65.4 402.8,72.2 403.9,72.1C405.0,72.0 406.1,64.1 407.3,62.9C408.4,61.7 409.8,64.1 410.9,64.8C412.0,65.5 413.0,67.7 414.1,67.3C415.2,66.8 416.5,62.4 417.5,62.2C418.4,61.9 418.7,63.0 419.6,65.8C420.6,68.6 422.1,78.3 423.3,78.9C424.5,79.5 425.7,71.4 426.9,69.5C428.1,67.5 429.3,67.8 430.5,67.3C431.8,66.8 433.3,67.1 434.2,66.5C435.0,66.0 435.0,63.0 435.6,63.9C436.2,64.9 436.9,69.1 437.8,72.4C438.7,75.7 440.0,83.1 441.2,83.7C442.4,84.3 444.0,77.4 445.1,76.0C446.2,74.6 447.0,75.9 448.0,75.3C449.0,74.7 449.9,72.5 450.9,72.4C451.9,72.2 453.0,73.8 453.8,74.5C454.7,75.3 455.2,74.8 456.0,76.7C456.8,78.7 458.0,83.8 458.9,86.2C459.8,88.6 460.8,89.7 461.5,91.3C462.3,92.8 462.7,94.7 463.3,95.3C463.9,96.0 464.4,93.8 465.2,94.9C465.9,96.0 466.8,100.8 467.6,102.2C468.4,103.6 469.1,103.3 470.1,103.2C471.1,103.1 472.6,101.7 473.7,101.5C474.8,101.2 475.7,102.0 476.6,101.7C477.6,101.5 478.5,101.4 479.5,100.0C480.6,98.6 482.0,96.2 483.2,93.5C484.4,90.7 485.6,83.7 486.8,83.3C488.0,82.9 489.4,90.9 490.5,91.0C491.5,91.1 492.2,85.6 493.4,84.0C494.6,82.4 496.2,81.7 497.7,81.4C499.3,81.0 501.0,82.2 502.8,81.8C504.6,81.4 506.8,79.1 508.6,78.9C510.5,78.7 512.2,81.2 513.7,80.8C515.3,80.4 516.6,76.5 517.8,76.4C519.0,76.4 520.0,79.5 521.0,80.4C522.0,81.3 522.9,82.3 523.9,81.8C525.0,81.3 526.2,77.6 527.3,77.5C528.3,77.3 529.4,79.9 530.5,80.8C531.5,81.7 532.4,83.2 533.7,82.8C534.9,82.4 536.7,79.1 537.7,78.5C538.8,77.9 539.5,79.2 539.9,79.3" fill="none" stroke="#161616" stroke-width="1.45" stroke-linejoin="round" stroke-linecap="round"/>
<text x="414.2" y="148.3" font-size="12.2" class="r" text-anchor="middle">(<tspan style="font-weight:bold">b</tspan>)</text>
</g>
<g>
<defs>
<linearGradient id="gc0" gradientUnits="userSpaceOnUse" x1="44.4" y1="0" x2="264.6" y2="0"><stop offset="0.0125" stop-color="#c8ff40"/><stop offset="0.0375" stop-color="#c8ff40"/><stop offset="0.0625" stop-color="#fffa08"/><stop offset="0.1375" stop-color="#fffa08"/><stop offset="0.1625" stop-color="#ffd200"/><stop offset="0.3625" stop-color="#ffd200"/><stop offset="0.3875" stop-color="#fffa08"/><stop offset="0.4125" stop-color="#fffa08"/><stop offset="0.4375" stop-color="#c8ff40"/><stop offset="0.4625" stop-color="#84ff84"/><stop offset="0.4875" stop-color="#84ff84"/><stop offset="0.5125" stop-color="#48ffc0"/><stop offset="0.5375" stop-color="#84ff84"/><stop offset="0.5625" stop-color="#48ffc0"/><stop offset="0.6625" stop-color="#48ffc0"/><stop offset="0.6875" stop-color="#84ff84"/><stop offset="0.8375" stop-color="#84ff84"/><stop offset="0.8625" stop-color="#c8ff40"/><stop offset="0.8875" stop-color="#fffa08"/><stop offset="0.9125" stop-color="#fffa08"/><stop offset="0.9375" stop-color="#c8ff40"/><stop offset="0.9875" stop-color="#c8ff40"/></linearGradient>
<linearGradient id="gc1" gradientUnits="userSpaceOnUse" x1="44.4" y1="0" x2="264.6" y2="0"><stop offset="0.0125" stop-color="#c8ff40"/><stop offset="0.0375" stop-color="#fffa08"/><stop offset="0.1375" stop-color="#fffa08"/><stop offset="0.1625" stop-color="#ffd200"/><stop offset="0.1875" stop-color="#ffd200"/><stop offset="0.2125" stop-color="#ffa200"/><stop offset="0.2875" stop-color="#ffa200"/><stop offset="0.3125" stop-color="#ffd200"/><stop offset="0.3625" stop-color="#ffd200"/><stop offset="0.3875" stop-color="#fffa08"/><stop offset="0.4125" stop-color="#fffa08"/><stop offset="0.4375" stop-color="#c8ff40"/><stop offset="0.4625" stop-color="#84ff84"/><stop offset="0.4875" stop-color="#48ffc0"/><stop offset="0.5125" stop-color="#48ffc0"/><stop offset="0.5375" stop-color="#84ff84"/><stop offset="0.5625" stop-color="#48ffc0"/><stop offset="0.5875" stop-color="#0cf4fc"/><stop offset="0.6125" stop-color="#0cf4fc"/><stop offset="0.6375" stop-color="#48ffc0"/><stop offset="0.6625" stop-color="#48ffc0"/><stop offset="0.6875" stop-color="#84ff84"/><stop offset="0.8375" stop-color="#84ff84"/><stop offset="0.8625" stop-color="#c8ff40"/><stop offset="0.8875" stop-color="#fffa08"/><stop offset="0.9125" stop-color="#fffa08"/><stop offset="0.9375" stop-color="#c8ff40"/><stop offset="0.9875" stop-color="#c8ff40"/></linearGradient>
<linearGradient id="gc2" gradientUnits="userSpaceOnUse" x1="44.4" y1="0" x2="264.6" y2="0"><stop offset="0.0125" stop-color="#c8ff40"/><stop offset="0.0375" stop-color="#fffa08"/><stop offset="0.1125" stop-color="#fffa08"/><stop offset="0.1375" stop-color="#ffd200"/><stop offset="0.1625" stop-color="#ffd200"/><stop offset="0.1875" stop-color="#ffa200"/><stop offset="0.2375" stop-color="#ffa200"/><stop offset="0.2625" stop-color="#ff7800"/><stop offset="0.2875" stop-color="#ff7800"/><stop offset="0.3125" stop-color="#ffa200"/><stop offset="0.3375" stop-color="#ffd200"/><stop offset="0.3625" stop-color="#ffd200"/><stop offset="0.3875" stop-color="#fffa08"/><stop offset="0.4125" stop-color="#fffa08"/><stop offset="0.4375" stop-color="#84ff84"/><stop offset="0.4625" stop-color="#48ffc0"/><stop offset="0.4875" stop-color="#48ffc0"/><stop offset="0.5125" stop-color="#0cf4fc"/><stop offset="0.6375" stop-color="#0cf4fc"/><stop offset="0.6625" stop-color="#48ffc0"/><stop offset="0.6875" stop-color="#84ff84"/><stop offset="0.8125" stop-color="#84ff84"/><stop offset="0.8375" stop-color="#c8ff40"/><stop offset="0.8625" stop-color="#c8ff40"/><stop offset="0.8875" stop-color="#fffa08"/><stop offset="0.9125" stop-color="#fffa08"/><stop offset="0.9375" stop-color="#c8ff40"/><stop offset="0.9875" stop-color="#c8ff40"/></linearGradient>
<linearGradient id="gc3" gradientUnits="userSpaceOnUse" x1="44.4" y1="0" x2="264.6" y2="0"><stop offset="0.0125" stop-color="#fffa08"/><stop offset="0.0875" stop-color="#fffa08"/><stop offset="0.1125" stop-color="#ffd200"/><stop offset="0.1375" stop-color="#ffa200"/><stop offset="0.1625" stop-color="#ffd200"/><stop offset="0.1875" stop-color="#ffa200"/><stop offset="0.2125" stop-color="#ffa200"/><stop offset="0.2375" stop-color="#ff7800"/><stop offset="0.2875" stop-color="#ff7800"/><stop offset="0.3125" stop-color="#ffa200"/><stop offset="0.3375" stop-color="#ffd200"/><stop offset="0.3625" stop-color="#fffa08"/><stop offset="0.4125" stop-color="#fffa08"/><stop offset="0.4375" stop-color="#0cf4fc"/><stop offset="0.4625" stop-color="#0c78ff"/><stop offset="0.4875" stop-color="#0cf4fc"/><stop offset="0.5375" stop-color="#0cf4fc"/><stop offset="0.5625" stop-color="#08b8ff"/><stop offset="0.5875" stop-color="#08b8ff"/><stop offset="0.6125" stop-color="#0cf4fc"/><stop offset="0.6375" stop-color="#0cf4fc"/><stop offset="0.6625" stop-color="#48ffc0"/><stop offset="0.6875" stop-color="#c8ff40"/><stop offset="0.7125" stop-color="#84ff84"/><stop offset="0.8125" stop-color="#84ff84"/><stop offset="0.8375" stop-color="#c8ff40"/><stop offset="0.8625" stop-color="#fffa08"/><stop offset="0.8875" stop-color="#fffa08"/><stop offset="0.9125" stop-color="#c8ff40"/><stop offset="0.9875" stop-color="#c8ff40"/></linearGradient>
<linearGradient id="gc4" gradientUnits="userSpaceOnUse" x1="44.4" y1="0" x2="264.6" y2="0"><stop offset="0.0125" stop-color="#fffa08"/><stop offset="0.0375" stop-color="#c8ff40"/><stop offset="0.0625" stop-color="#fffa08"/><stop offset="0.0875" stop-color="#ffd200"/><stop offset="0.1125" stop-color="#ffa200"/><stop offset="0.1375" stop-color="#ffd200"/><stop offset="0.1625" stop-color="#ffa200"/><stop offset="0.1875" stop-color="#ff7800"/><stop offset="0.2125" stop-color="#ff7800"/><stop offset="0.2375" stop-color="#ff5200"/><stop offset="0.2625" stop-color="#ff5200"/><stop offset="0.2875" stop-color="#ff7800"/><stop offset="0.3125" stop-color="#ff7800"/><stop offset="0.3375" stop-color="#c8ff40"/><stop offset="0.3625" stop-color="#0cf4fc"/><stop offset="0.3875" stop-color="#fffa08"/><stop offset="0.4125" stop-color="#ffa200"/><stop offset="0.4375" stop-color="#0cf4fc"/><stop offset="0.4625" stop-color="#0cf4fc"/><stop offset="0.4875" stop-color="#c8ff40"/><stop offset="0.5125" stop-color="#c8ff40"/><stop offset="0.5375" stop-color="#08b8ff"/><stop offset="0.5625" stop-color="#0c78ff"/><stop offset="0.5875" stop-color="#08b8ff"/><stop offset="0.6125" stop-color="#0cf4fc"/><stop offset="0.6375" stop-color="#0cf4fc"/><stop offset="0.6625" stop-color="#48ffc0"/><stop offset="0.6875" stop-color="#c8ff40"/><stop offset="0.7125" stop-color="#84ff84"/><stop offset="0.7875" stop-color="#84ff84"/><stop offset="0.8125" stop-color="#c8ff40"/><stop offset="0.8375" stop-color="#fffa08"/><stop offset="0.8625" stop-color="#fffa08"/><stop offset="0.8875" stop-color="#c8ff40"/><stop offset="0.9375" stop-color="#c8ff40"/><stop offset="0.9625" stop-color="#fffa08"/><stop offset="0.9875" stop-color="#c8ff40"/></linearGradient>
<linearGradient id="gc5" gradientUnits="userSpaceOnUse" x1="44.4" y1="0" x2="264.6" y2="0"><stop offset="0.0125" stop-color="#ffd200"/><stop offset="0.0375" stop-color="#0cf4fc"/><stop offset="0.0625" stop-color="#c8ff40"/><stop offset="0.0875" stop-color="#ffa200"/><stop offset="0.1125" stop-color="#c8ff40"/><stop offset="0.1375" stop-color="#ffa200"/><stop offset="0.1625" stop-color="#ffa200"/><stop offset="0.1875" stop-color="#ff7800"/><stop offset="0.2125" stop-color="#ff5200"/><stop offset="0.2375" stop-color="#ff7800"/><stop offset="0.2875" stop-color="#ff7800"/><stop offset="0.3125" stop-color="#ffa200"/><stop offset="0.3375" stop-color="#0cf4fc"/><stop offset="0.3625" stop-color="#0cf4fc"/><stop offset="0.3875" stop-color="#c8ff40"/><stop offset="0.4125" stop-color="#ffd200"/><stop offset="0.4375" stop-color="#0cf4fc"/><stop offset="0.5125" stop-color="#0cf4fc"/><stop offset="0.5375" stop-color="#0c78ff"/><stop offset="0.5625" stop-color="#0c78ff"/><stop offset="0.5875" stop-color="#08b8ff"/><stop offset="0.6125" stop-color="#0cf4fc"/><stop offset="0.6375" stop-color="#48ffc0"/><stop offset="0.6625" stop-color="#48ffc0"/><stop offset="0.6875" stop-color="#84ff84"/><stop offset="0.7375" stop-color="#84ff84"/><stop offset="0.7625" stop-color="#48ffc0"/><stop offset="0.7875" stop-color="#84ff84"/><stop offset="0.8125" stop-color="#c8ff40"/><stop offset="0.8375" stop-color="#fffa08"/><stop offset="0.8625" stop-color="#c8ff40"/><stop offset="0.8875" stop-color="#fffa08"/><stop offset="0.9125" stop-color="#c8ff40"/><stop offset="0.9375" stop-color="#fffa08"/><stop offset="0.9625" stop-color="#c8ff40"/><stop offset="0.9875" stop-color="#fffa08"/></linearGradient>
<linearGradient id="gc6" gradientUnits="userSpaceOnUse" x1="44.4" y1="0" x2="264.6" y2="0"><stop offset="0.0125" stop-color="#ffa200"/><stop offset="0.0375" stop-color="#ff5200"/><stop offset="0.0625" stop-color="#0cf4fc"/><stop offset="0.0875" stop-color="#ff5200"/><stop offset="0.1125" stop-color="#0cf4fc"/><stop offset="0.1375" stop-color="#ff5200"/><stop offset="0.1625" stop-color="#ff7800"/><stop offset="0.1875" stop-color="#48ffc0"/><stop offset="0.2125" stop-color="#ff5200"/><stop offset="0.2375" stop-color="#ff7800"/><stop offset="0.2625" stop-color="#ffa200"/><stop offset="0.2875" stop-color="#ffa200"/><stop offset="0.3125" stop-color="#fffa08"/><stop offset="0.3375" stop-color="#c8ff40"/><stop offset="0.3625" stop-color="#ffd200"/><stop offset="0.3875" stop-color="#ffa200"/><stop offset="0.4125" stop-color="#ffd200"/><stop offset="0.4375" stop-color="#0cf4fc"/><stop offset="0.5125" stop-color="#0cf4fc"/><stop offset="0.5375" stop-color="#0c78ff"/><stop offset="0.5625" stop-color="#08b8ff"/><stop offset="0.5875" stop-color="#0cf4fc"/><stop offset="0.6125" stop-color="#0cf4fc"/><stop offset="0.6375" stop-color="#48ffc0"/><stop offset="0.8125" stop-color="#48ffc0"/><stop offset="0.8375" stop-color="#c8ff40"/><stop offset="0.8625" stop-color="#48ffc0"/><stop offset="0.8875" stop-color="#48ffc0"/><stop offset="0.9125" stop-color="#84ff84"/><stop offset="0.9375" stop-color="#48ffc0"/><stop offset="0.9625" stop-color="#84ff84"/><stop offset="0.9875" stop-color="#48ffc0"/></linearGradient>
<linearGradient id="gc7" gradientUnits="userSpaceOnUse" x1="44.4" y1="0" x2="264.6" y2="0"><stop offset="0.0125" stop-color="#ff7800"/><stop offset="0.2875" stop-color="#ff7800"/><stop offset="0.3125" stop-color="#ffa200"/><stop offset="0.3375" stop-color="#ffa200"/><stop offset="0.3625" stop-color="#ff5200"/><stop offset="0.3875" stop-color="#ff7800"/><stop offset="0.4125" stop-color="#ff5200"/><stop offset="0.4375" stop-color="#ffa200"/><stop offset="0.4625" stop-color="#0cf4fc"/><stop offset="0.4875" stop-color="#0cf4fc"/><stop offset="0.5125" stop-color="#ff7800"/><stop offset="0.5375" stop-color="#08b8ff"/><stop offset="0.5625" stop-color="#0cf4fc"/><stop offset="0.7375" stop-color="#0cf4fc"/><stop offset="0.7625" stop-color="#48ffc0"/><stop offset="0.9875" stop-color="#48ffc0"/></linearGradient>
<linearGradient id="gc8" gradientUnits="userSpaceOnUse" x1="44.4" y1="0" x2="264.6" y2="0"><stop offset="0.0125" stop-color="#ff7800"/><stop offset="0.9875" stop-color="#ff7800"/></linearGradient>
<linearGradient id="gc9" gradientUnits="userSpaceOnUse" x1="44.4" y1="0" x2="264.6" y2="0"><stop offset="0.0125" stop-color="#ff7800"/><stop offset="0.2875" stop-color="#ff7800"/><stop offset="0.3125" stop-color="#ffa200"/><stop offset="0.3375" stop-color="#ff7800"/><stop offset="0.9875" stop-color="#ff7800"/></linearGradient>
<linearGradient id="gc10" gradientUnits="userSpaceOnUse" x1="44.4" y1="0" x2="264.6" y2="0"><stop offset="0.0125" stop-color="#ff7800"/><stop offset="0.2625" stop-color="#ff7800"/><stop offset="0.2875" stop-color="#ffa200"/><stop offset="0.3125" stop-color="#ffa200"/><stop offset="0.3375" stop-color="#ff7800"/><stop offset="0.3625" stop-color="#ff7800"/><stop offset="0.3875" stop-color="#ffa200"/><stop offset="0.4125" stop-color="#ff7800"/><stop offset="0.4375" stop-color="#ff7800"/><stop offset="0.4625" stop-color="#ffa200"/><stop offset="0.4875" stop-color="#ff7800"/><stop offset="0.9875" stop-color="#ff7800"/></linearGradient>
<linearGradient id="gc11" gradientUnits="userSpaceOnUse" x1="44.4" y1="0" x2="264.6" y2="0"><stop offset="0.0125" stop-color="#ff7800"/><stop offset="0.2375" stop-color="#ff7800"/><stop offset="0.2625" stop-color="#ffa200"/><stop offset="0.3125" stop-color="#ffa200"/><stop offset="0.3375" stop-color="#ff7800"/><stop offset="0.3625" stop-color="#ff7800"/><stop offset="0.3875" stop-color="#ffa200"/><stop offset="0.4125" stop-color="#ff7800"/><stop offset="0.4375" stop-color="#ff7800"/><stop offset="0.4625" stop-color="#ffa200"/><stop offset="0.4875" stop-color="#ff7800"/><stop offset="0.9875" stop-color="#ff7800"/></linearGradient>
<clipPath id="cpc"><rect x="44.4" y="154.0" width="220.2" height="48.5"/></clipPath>
</defs>
<g clip-path="url(#cpc)">
<g filter="url(#bl)">
<rect x="36.4" y="146.8" width="236.2" height="12.10" fill="url(#gc0)"/>
<rect x="36.4" y="158.8" width="236.2" height="4.10" fill="url(#gc1)"/>
<rect x="36.4" y="162.8" width="236.2" height="4.10" fill="url(#gc2)"/>
<rect x="36.4" y="166.8" width="236.2" height="4.10" fill="url(#gc3)"/>
<rect x="36.4" y="170.8" width="236.2" height="4.10" fill="url(#gc4)"/>
<rect x="36.4" y="174.8" width="236.2" height="4.10" fill="url(#gc5)"/>
<rect x="36.4" y="178.8" width="236.2" height="4.10" fill="url(#gc6)"/>
<rect x="36.4" y="182.8" width="236.2" height="4.10" fill="url(#gc7)"/>
<rect x="36.4" y="186.8" width="236.2" height="4.10" fill="url(#gc8)"/>
<rect x="36.4" y="190.8" width="236.2" height="4.10" fill="url(#gc9)"/>
<rect x="36.4" y="194.8" width="236.2" height="4.10" fill="url(#gc10)"/>
<rect x="36.4" y="198.8" width="236.2" height="14.10" fill="url(#gc11)"/>
</g>
<path d="M144.2,190.6V182.0L154.1,188.3V190.6zM163.9,190.6V182.0L173.8,188.3V190.6zM173.8,190.6V182.0L183.6,188.3V190.6zM183.6,190.6V182.0L193.5,188.3V190.6zM193.5,190.6V182.0L203.4,188.3V190.6zM203.4,190.6V182.0L213.2,188.3V190.6zM213.2,190.6V182.0L223.1,188.3V190.6zM223.1,190.6V182.0L232.9,188.3V190.6zM232.9,190.6V182.0L242.8,188.3V190.6zM242.8,190.6V182.0L252.7,188.3V190.6zM252.7,190.6V182.0L262.5,188.3V190.6z" fill="url(#gc8)"/>
<path d="M144.2,187.5V182.3L146.4,187.5zM163.9,187.5V182.3L166.1,187.5zM173.8,187.5V182.3L176.0,187.5zM183.6,187.5V182.3L185.8,187.5zM193.5,187.5V182.3L195.7,187.5zM203.4,187.5V182.3L205.6,187.5zM213.2,187.5V182.3L215.4,187.5zM223.1,187.5V182.3L225.3,187.5zM232.9,187.5V182.3L235.1,187.5zM242.8,187.5V182.3L245.0,187.5zM252.7,187.5V182.3L254.9,187.5z" fill="#f4401a" opacity="0.75"/>
<path d="M59.5,182.4L64.4,180.3V184.9zM69.4,182.4L74.3,180.3V184.9zM79.3,182.4L84.1,180.3V184.9zM89.1,182.4L94.0,180.3V184.9zM99.0,182.4L103.9,180.3V184.9z" fill="#40f4d0" opacity="0.85"/>
<path d="M55.8,183.9Q57.7,177.3 66.7,172.0M65.6,183.9Q67.6,177.3 76.6,172.0M75.5,183.9Q77.4,177.3 86.4,172.0M85.3,183.9Q87.3,177.3 96.3,172.0M95.2,183.9Q97.1,177.3 106.1,172.0" fill="none" stroke="#ff4000" stroke-width="1.1" stroke-linecap="round" opacity="0.75"/>
</g>
<line x1="45.9" y1="178.8" x2="264.1" y2="178.8" stroke="#0a0a0a" stroke-width="1.7" stroke-dasharray="3.9 2.3"/>
<rect x="44.4" y="154.8" width="220.2" height="47.7" fill="none" stroke="#111" stroke-width="1.25"/>
<text transform="translate(46.6,191.8) scale(1,1.09)" font-size="12.30" class="r" style="fill:#1c0c04;stroke:#1c0c04;stroke-width:0.18">Pressure measurement position</text>
<text x="40.8" y="162.6" font-size="9.25" class="b" text-anchor="end">Ps (Pa)</text>
<rect x="32.4" y="168.8" width="4.6" height="33.1" fill="url(#cb)"/>
<text transform="translate(29.4,173.2) scale(1.08,1)" font-size="7.2" class="b" text-anchor="end" style="stroke:#111;stroke-width:0.22">160,000</text>
<text transform="translate(30.0,203.4) scale(1.08,1)" font-size="7.2" class="b" text-anchor="end" style="stroke:#111;stroke-width:0.22">0</text>
<line x1="44.4" y1="212.5" x2="264.6" y2="212.5" class="g"/>
<line x1="44.4" y1="231.5" x2="264.6" y2="231.5" class="g"/>
<line x1="44.4" y1="251.2" x2="264.6" y2="251.2" class="g"/>
<line x1="81.1" y1="203.1" x2="81.1" y2="260.2" class="v"/>
<line x1="117.8" y1="203.1" x2="117.8" y2="260.2" class="v"/>
<line x1="154.5" y1="203.1" x2="154.5" y2="260.2" class="v"/>
<line x1="191.2" y1="203.1" x2="191.2" y2="260.2" class="v"/>
<line x1="227.9" y1="203.1" x2="227.9" y2="260.2" class="v"/>
<line x1="264.6" y1="203.1" x2="264.6" y2="260.2" class="v"/>
<path d="M44.4,202.5V260.2H264.9" fill="none" stroke="#3a3a3a" stroke-width="0.9"/>
<path d="M44.4,212.5h-2M44.4,231.5h-2M44.4,251.2h-2M44.4,222.2h-1.2M44.4,241.2h-1.2M44.4,260.2v2M81.1,260.2v2M117.8,260.2v2M154.5,260.2v2M191.2,260.2v2M227.9,260.2v2M264.6,260.2v2M62.8,260.2v1.2M99.5,260.2v1.2M136.2,260.2v1.2M172.9,260.2v1.2M209.6,260.2v1.2M246.3,260.2v1.2" stroke="#3a3a3a" stroke-width="0.8" fill="none"/>
<text transform="translate(40.4,215.5) scale(1.08,1)" font-size="7.2" class="b" text-anchor="end" style="stroke:#111;stroke-width:0.22">120,000</text>
<text transform="translate(40.4,234.5) scale(1.08,1)" font-size="7.2" class="b" text-anchor="end" style="stroke:#111;stroke-width:0.22">8,000</text>
<text transform="translate(40.4,254.2) scale(1.08,1)" font-size="7.2" class="b" text-anchor="end" style="stroke:#111;stroke-width:0.22">4,000</text>
<text transform="translate(13.4,233.4) rotate(-90)" font-size="9.2" class="b" text-anchor="middle">Ps (Pa)</text>
<text x="44.7" y="272.0" font-size="7.7" class="b" text-anchor="middle">0</text>
<text x="81.4" y="272.0" font-size="7.7" class="b" text-anchor="middle">60</text>
<text x="118.1" y="272.0" font-size="7.7" class="b" text-anchor="middle">120</text>
<text x="154.8" y="272.0" font-size="7.7" class="b" text-anchor="middle">180</text>
<text x="191.5" y="272.0" font-size="7.7" class="b" text-anchor="middle">240</text>
<text x="228.2" y="272.0" font-size="7.7" class="b" text-anchor="middle">300</text>
<text x="264.9" y="272.0" font-size="7.7" class="b" text-anchor="middle">360</text>
<text x="154.5" y="281.8" font-size="9.3" class="b" text-anchor="middle">Theta (degree)</text>
<path d="M120.4,178.8V202.5M137.5,178.8V202.5" stroke="#b81410" stroke-width="0.7" fill="none" opacity="0.75"/>
<path d="M120.4,202.5V260.2M137.5,202.5V260.2" stroke="#e8282c" stroke-width="0.9" fill="none"/>
<path d="M123.4,250.4H134.5" stroke="#d4151b" stroke-width="1.1"/>
<path d="M121.1,250.4l7.0,-3.3v6.6zM136.8,250.4l-7.0,-3.3v6.6z" fill="#cc0f16"/>
<text x="139.0" y="254.2" font-size="10.8" class="r" style="fill:#d4151b;stroke:#d4151b;stroke-width:0.25">30°</text>
<path d="M44.4,231.8C44.7,231.7 45.5,233.2 46.1,231.1C46.8,229.0 47.5,219.5 48.3,219.2C49.1,218.8 49.9,226.9 50.9,228.9C51.9,230.9 53.3,234.2 54.3,231.1C55.2,228.0 55.7,211.6 56.4,210.4C57.2,209.2 57.9,220.3 58.9,223.8C59.9,227.4 61.6,234.7 62.5,231.8C63.5,228.9 63.9,208.2 64.7,206.4C65.6,204.5 66.6,216.8 67.6,220.9C68.7,225.0 69.9,232.7 70.8,231.1C71.8,229.5 72.7,214.8 73.5,211.5C74.2,208.1 74.4,208.8 75.2,210.7C76.0,212.7 77.7,220.9 78.5,223.1C79.3,225.3 79.4,225.6 80.0,223.8C80.6,222.0 81.3,213.3 82.2,212.2C83.0,211.1 84.1,215.8 85.1,217.3C86.1,218.7 87.0,221.6 88.0,220.9C89.0,220.2 89.6,215.3 90.9,212.9C92.2,210.5 94.5,207.4 96.0,206.7C97.5,205.9 98.7,207.8 99.6,208.5C100.6,209.3 101.2,210.8 101.8,211.0C102.4,211.2 102.7,209.3 103.3,209.6C103.8,209.8 104.4,212.4 105.0,212.5C105.7,212.5 106.4,209.6 107.2,210.0C108.0,210.4 108.9,212.7 109.8,215.1C110.7,217.5 111.8,221.8 112.7,224.5C113.7,227.3 114.8,230.4 115.6,231.8C116.5,233.3 117.0,233.6 117.8,233.3C118.7,232.9 119.6,231.1 120.8,229.6C122.0,228.2 124.0,225.6 125.2,224.5C126.4,223.5 127.2,224.5 128.1,223.1C128.9,221.6 129.6,217.0 130.3,215.8C131.0,214.6 131.4,214.5 132.2,215.8C132.9,217.2 133.9,222.2 134.6,223.8C135.4,225.4 135.9,223.8 136.5,225.3C137.1,226.7 137.6,229.8 138.3,232.5C138.9,235.3 139.5,240.1 140.5,241.6C141.4,243.0 142.6,241.4 144.1,241.3C145.5,241.1 148.0,240.3 149.2,240.5C150.4,240.8 150.6,241.9 151.4,242.7C152.1,243.5 152.5,245.4 153.5,245.3C154.6,245.3 156.6,242.1 157.9,242.4C159.2,242.7 160.3,245.8 161.5,247.1C162.8,248.4 164.2,249.6 165.2,250.3C166.2,251.0 166.7,251.8 167.7,251.2C168.6,250.5 169.8,248.9 171.0,246.4C172.2,243.9 173.5,238.5 174.6,236.2C175.7,233.9 176.6,233.1 177.5,232.5C178.5,232.0 179.1,233.5 180.2,232.8C181.3,232.2 183.0,228.9 184.1,228.5C185.2,228.1 185.8,230.2 187.0,230.4C188.2,230.5 190.5,229.6 191.4,229.3C192.3,229.1 191.4,228.4 192.4,228.9C193.4,229.4 195.8,232.5 197.5,232.5C199.1,232.6 200.5,229.2 202.3,229.3C204.0,229.5 206.2,233.2 208.1,233.3C209.9,233.4 211.8,230.1 213.5,229.9C215.1,229.8 216.2,232.7 217.8,232.3C219.4,231.8 221.4,227.7 222.9,227.5C224.4,227.2 225.7,231.7 227.0,230.8C228.2,229.9 229.2,222.3 230.5,222.1C231.7,221.9 233.1,230.3 234.5,229.6C236.0,229.0 237.6,218.5 238.9,218.3C240.2,218.0 240.9,226.0 242.1,228.2C243.3,230.3 244.9,232.3 246.2,231.1C247.5,229.9 248.7,221.1 249.8,220.9C250.9,220.7 251.6,227.9 252.7,229.9C253.8,231.9 255.1,234.1 256.4,232.8C257.6,231.6 259.2,222.9 260.3,222.4C261.4,221.8 262.2,228.0 262.9,229.6C263.7,231.3 264.5,231.8 264.8,232.3" fill="none" stroke="#161616" stroke-width="1.45" stroke-linejoin="round" stroke-linecap="round"/>
<text x="136.3" y="298.5" font-size="12.2" class="r" text-anchor="middle">(<tspan style="font-weight:bold">c</tspan>)</text>
</g>
<g>
<defs>
<linearGradient id="gd0" gradientUnits="userSpaceOnUse" x1="322.1" y1="0" x2="541.4" y2="0"><stop offset="0.0125" stop-color="#ffd200"/><stop offset="0.0875" stop-color="#ffd200"/><stop offset="0.1125" stop-color="#fffa08"/><stop offset="0.1625" stop-color="#fffa08"/><stop offset="0.1875" stop-color="#c8ff40"/><stop offset="0.2125" stop-color="#84ff84"/><stop offset="0.2625" stop-color="#84ff84"/><stop offset="0.2875" stop-color="#48ffc0"/><stop offset="0.3125" stop-color="#48ffc0"/><stop offset="0.3375" stop-color="#84ff84"/><stop offset="0.4375" stop-color="#84ff84"/><stop offset="0.4625" stop-color="#c8ff40"/><stop offset="0.5625" stop-color="#c8ff40"/><stop offset="0.5875" stop-color="#84ff84"/><stop offset="0.6125" stop-color="#c8ff40"/><stop offset="0.6375" stop-color="#c8ff40"/><stop offset="0.6625" stop-color="#fffa08"/><stop offset="0.7375" stop-color="#fffa08"/><stop offset="0.7625" stop-color="#ffd200"/><stop offset="0.9875" stop-color="#ffd200"/></linearGradient>
<linearGradient id="gd1" gradientUnits="userSpaceOnUse" x1="322.1" y1="0" x2="541.4" y2="0"><stop offset="0.0125" stop-color="#ffd200"/><stop offset="0.1125" stop-color="#ffd200"/><stop offset="0.1375" stop-color="#fffa08"/><stop offset="0.1625" stop-color="#c8ff40"/><stop offset="0.1875" stop-color="#84ff84"/><stop offset="0.2125" stop-color="#48ffc0"/><stop offset="0.2625" stop-color="#48ffc0"/><stop offset="0.2875" stop-color="#0cf4fc"/><stop offset="0.3125" stop-color="#48ffc0"/><stop offset="0.3375" stop-color="#48ffc0"/><stop offset="0.3625" stop-color="#84ff84"/><stop offset="0.4375" stop-color="#84ff84"/><stop offset="0.4625" stop-color="#c8ff40"/><stop offset="0.5375" stop-color="#c8ff40"/><stop offset="0.5625" stop-color="#48ffc0"/><stop offset="0.5875" stop-color="#48ffc0"/><stop offset="0.6125" stop-color="#c8ff40"/><stop offset="0.6375" stop-color="#c8ff40"/><stop offset="0.6625" stop-color="#fffa08"/><stop offset="0.7625" stop-color="#fffa08"/><stop offset="0.7875" stop-color="#ffd200"/><stop offset="0.8375" stop-color="#ffd200"/><stop offset="0.8625" stop-color="#ffa200"/><stop offset="0.8875" stop-color="#ffd200"/><stop offset="0.9125" stop-color="#ffa200"/><stop offset="0.9375" stop-color="#ffa200"/><stop offset="0.9625" stop-color="#ffd200"/><stop offset="0.9875" stop-color="#ffd200"/></linearGradient>
<linearGradient id="gd2" gradientUnits="userSpaceOnUse" x1="322.1" y1="0" x2="541.4" y2="0"><stop offset="0.0125" stop-color="#ffd200"/><stop offset="0.0375" stop-color="#ffa200"/><stop offset="0.0625" stop-color="#ffa200"/><stop offset="0.0875" stop-color="#ffd200"/><stop offset="0.1125" stop-color="#ffd200"/><stop offset="0.1375" stop-color="#fffa08"/><stop offset="0.1625" stop-color="#c8ff40"/><stop offset="0.1875" stop-color="#48ffc0"/><stop offset="0.2375" stop-color="#48ffc0"/><stop offset="0.2625" stop-color="#0cf4fc"/><stop offset="0.2875" stop-color="#0cf4fc"/><stop offset="0.3125" stop-color="#48ffc0"/><stop offset="0.3375" stop-color="#48ffc0"/><stop offset="0.3625" stop-color="#84ff84"/><stop offset="0.4375" stop-color="#84ff84"/><stop offset="0.4625" stop-color="#c8ff40"/><stop offset="0.5125" stop-color="#c8ff40"/><stop offset="0.5375" stop-color="#84ff84"/><stop offset="0.5625" stop-color="#48ffc0"/><stop offset="0.5875" stop-color="#48ffc0"/><stop offset="0.6125" stop-color="#c8ff40"/><stop offset="0.6375" stop-color="#c8ff40"/><stop offset="0.6625" stop-color="#fffa08"/><stop offset="0.7125" stop-color="#fffa08"/><stop offset="0.7375" stop-color="#ffd200"/><stop offset="0.7625" stop-color="#fffa08"/><stop offset="0.7875" stop-color="#ffd200"/><stop offset="0.8125" stop-color="#ffd200"/><stop offset="0.8375" stop-color="#ffa200"/><stop offset="0.8625" stop-color="#ffd200"/><stop offset="0.8875" stop-color="#ffa200"/><stop offset="0.9625" stop-color="#ffa200"/><stop offset="0.9875" stop-color="#ffd200"/></linearGradient>
<linearGradient id="gd3" gradientUnits="userSpaceOnUse" x1="322.1" y1="0" x2="541.4" y2="0"><stop offset="0.0125" stop-color="#ffa200"/><stop offset="0.0375" stop-color="#c8ff40"/><stop offset="0.0625" stop-color="#ffa200"/><stop offset="0.0875" stop-color="#ffa200"/><stop offset="0.1125" stop-color="#ff7800"/><stop offset="0.1375" stop-color="#ffd200"/><stop offset="0.1625" stop-color="#48ffc0"/><stop offset="0.1875" stop-color="#0cf4fc"/><stop offset="0.2125" stop-color="#08b8ff"/><stop offset="0.2375" stop-color="#84ff84"/><stop offset="0.2625" stop-color="#0cf4fc"/><stop offset="0.3125" stop-color="#0cf4fc"/><stop offset="0.3375" stop-color="#48ffc0"/><stop offset="0.3625" stop-color="#84ff84"/><stop offset="0.4375" stop-color="#84ff84"/><stop offset="0.4625" stop-color="#c8ff40"/><stop offset="0.5125" stop-color="#c8ff40"/><stop offset="0.5375" stop-color="#48ffc0"/><stop offset="0.5875" stop-color="#48ffc0"/><stop offset="0.6125" stop-color="#c8ff40"/><stop offset="0.6375" stop-color="#c8ff40"/><stop offset="0.6625" stop-color="#fffa08"/><stop offset="0.7125" stop-color="#fffa08"/><stop offset="0.7375" stop-color="#ffd200"/><stop offset="0.7625" stop-color="#fffa08"/><stop offset="0.7875" stop-color="#ffd200"/><stop offset="0.8125" stop-color="#ffa200"/><stop offset="0.8375" stop-color="#ffd200"/><stop offset="0.8625" stop-color="#ffa200"/><stop offset="0.8875" stop-color="#ffa200"/><stop offset="0.9125" stop-color="#ff7800"/><stop offset="0.9375" stop-color="#ff7800"/><stop offset="0.9625" stop-color="#ffa200"/><stop offset="0.9875" stop-color="#ffd200"/></linearGradient>
<linearGradient id="gd4" gradientUnits="userSpaceOnUse" x1="322.1" y1="0" x2="541.4" y2="0"><stop offset="0.0125" stop-color="#ffa200"/><stop offset="0.0375" stop-color="#08b8ff"/><stop offset="0.0625" stop-color="#ffa200"/><stop offset="0.0875" stop-color="#ff7800"/><stop offset="0.1125" stop-color="#ff7800"/><stop offset="0.1375" stop-color="#ffa200"/><stop offset="0.1625" stop-color="#0cf4fc"/><stop offset="0.1875" stop-color="#0cf4fc"/><stop offset="0.2125" stop-color="#08b8ff"/><stop offset="0.2375" stop-color="#48ffc0"/><stop offset="0.2625" stop-color="#0c78ff"/><stop offset="0.2875" stop-color="#08b8ff"/><stop offset="0.3125" stop-color="#0cf4fc"/><stop offset="0.3375" stop-color="#48ffc0"/><stop offset="0.3625" stop-color="#48ffc0"/><stop offset="0.3875" stop-color="#84ff84"/><stop offset="0.4625" stop-color="#84ff84"/><stop offset="0.4875" stop-color="#c8ff40"/><stop offset="0.5125" stop-color="#84ff84"/><stop offset="0.5375" stop-color="#48ffc0"/><stop offset="0.5625" stop-color="#48ffc0"/><stop offset="0.5875" stop-color="#84ff84"/><stop offset="0.6125" stop-color="#c8ff40"/><stop offset="0.6375" stop-color="#c8ff40"/><stop offset="0.6625" stop-color="#fffa08"/><stop offset="0.6875" stop-color="#fffa08"/><stop offset="0.7125" stop-color="#ffd200"/><stop offset="0.7375" stop-color="#ffa200"/><stop offset="0.7625" stop-color="#ffd200"/><stop offset="0.7875" stop-color="#ffa200"/><stop offset="0.8125" stop-color="#ffd200"/><stop offset="0.8375" stop-color="#ffa200"/><stop offset="0.8625" stop-color="#ffa200"/><stop offset="0.8875" stop-color="#ff7800"/><stop offset="0.9125" stop-color="#ff7800"/><stop offset="0.9375" stop-color="#ff5200"/><stop offset="0.9625" stop-color="#ff7800"/><stop offset="0.9875" stop-color="#ffa200"/></linearGradient>
<linearGradient id="gd5" gradientUnits="userSpaceOnUse" x1="322.1" y1="0" x2="541.4" y2="0"><stop offset="0.0125" stop-color="#ffa200"/><stop offset="0.0375" stop-color="#0cf4fc"/><stop offset="0.0625" stop-color="#ffa200"/><stop offset="0.0875" stop-color="#ff7800"/><stop offset="0.1125" stop-color="#ff7800"/><stop offset="0.1375" stop-color="#ffa200"/><stop offset="0.1625" stop-color="#08b8ff"/><stop offset="0.1875" stop-color="#0c78ff"/><stop offset="0.2125" stop-color="#08b8ff"/><stop offset="0.2375" stop-color="#0cf4fc"/><stop offset="0.2625" stop-color="#0c78ff"/><stop offset="0.2875" stop-color="#0c78ff"/><stop offset="0.3125" stop-color="#0cf4fc"/><stop offset="0.3375" stop-color="#0cf4fc"/><stop offset="0.3625" stop-color="#48ffc0"/><stop offset="0.3875" stop-color="#84ff84"/><stop offset="0.4375" stop-color="#84ff84"/><stop offset="0.4625" stop-color="#c8ff40"/><stop offset="0.4875" stop-color="#fffa08"/><stop offset="0.5125" stop-color="#48ffc0"/><stop offset="0.5625" stop-color="#48ffc0"/><stop offset="0.5875" stop-color="#84ff84"/><stop offset="0.6125" stop-color="#84ff84"/><stop offset="0.6375" stop-color="#c8ff40"/><stop offset="0.6625" stop-color="#c8ff40"/><stop offset="0.6875" stop-color="#fffa08"/><stop offset="0.7125" stop-color="#c8ff40"/><stop offset="0.7375" stop-color="#fffa08"/><stop offset="0.7625" stop-color="#c8ff40"/><stop offset="0.7875" stop-color="#ff5200"/><stop offset="0.8125" stop-color="#ffd200"/><stop offset="0.8375" stop-color="#ff5200"/><stop offset="0.8625" stop-color="#ffa200"/><stop offset="0.8875" stop-color="#ff7800"/><stop offset="0.9125" stop-color="#ff7800"/><stop offset="0.9375" stop-color="#f01800"/><stop offset="0.9625" stop-color="#ff7800"/><stop offset="0.9875" stop-color="#ffa200"/></linearGradient>
<linearGradient id="gd6" gradientUnits="userSpaceOnUse" x1="322.1" y1="0" x2="541.4" y2="0"><stop offset="0.0125" stop-color="#ffa200"/><stop offset="0.0875" stop-color="#ffa200"/><stop offset="0.1125" stop-color="#ff5200"/><stop offset="0.1375" stop-color="#ffa200"/><stop offset="0.1625" stop-color="#08b8ff"/><stop offset="0.1875" stop-color="#08b8ff"/><stop offset="0.2125" stop-color="#0cf4fc"/><stop offset="0.2375" stop-color="#0cf4fc"/><stop offset="0.2625" stop-color="#08b8ff"/><stop offset="0.2875" stop-color="#0c78ff"/><stop offset="0.3125" stop-color="#08b8ff"/><stop offset="0.3375" stop-color="#0cf4fc"/><stop offset="0.3625" stop-color="#c8ff40"/><stop offset="0.3875" stop-color="#c8ff40"/><stop offset="0.4125" stop-color="#48ffc0"/><stop offset="0.4375" stop-color="#84ff84"/><stop offset="0.4625" stop-color="#48ffc0"/><stop offset="0.4875" stop-color="#84ff84"/><stop offset="0.5125" stop-color="#0cf4fc"/><stop offset="0.5375" stop-color="#48ffc0"/><stop offset="0.7625" stop-color="#48ffc0"/><stop offset="0.7875" stop-color="#0cf4fc"/><stop offset="0.8125" stop-color="#ff5200"/><stop offset="0.8375" stop-color="#0cf4fc"/><stop offset="0.8625" stop-color="#ff5200"/><stop offset="0.8875" stop-color="#ff7800"/><stop offset="0.9125" stop-color="#ff5200"/><stop offset="0.9375" stop-color="#f01800"/><stop offset="0.9625" stop-color="#ffa200"/><stop offset="0.9875" stop-color="#0cf4fc"/></linearGradient>
<linearGradient id="gd7" gradientUnits="userSpaceOnUse" x1="322.1" y1="0" x2="541.4" y2="0"><stop offset="0.0125" stop-color="#ff7800"/><stop offset="0.1375" stop-color="#ff7800"/><stop offset="0.1625" stop-color="#48ffc0"/><stop offset="0.1875" stop-color="#0cf4fc"/><stop offset="0.2125" stop-color="#0cf4fc"/><stop offset="0.2375" stop-color="#fffa08"/><stop offset="0.2625" stop-color="#c8ff40"/><stop offset="0.2875" stop-color="#0cf4fc"/><stop offset="0.6625" stop-color="#0cf4fc"/><stop offset="0.6875" stop-color="#48ffc0"/><stop offset="0.7125" stop-color="#fffa08"/><stop offset="0.7375" stop-color="#48ffc0"/><stop offset="0.7625" stop-color="#ff7800"/><stop offset="0.8125" stop-color="#ff7800"/><stop offset="0.8375" stop-color="#ffa200"/><stop offset="0.8625" stop-color="#ff7800"/><stop offset="0.8875" stop-color="#ffa200"/><stop offset="0.9125" stop-color="#ff7800"/><stop offset="0.9375" stop-color="#ffa200"/><stop offset="0.9625" stop-color="#ffa200"/><stop offset="0.9875" stop-color="#ff7800"/></linearGradient>
<linearGradient id="gd8" gradientUnits="userSpaceOnUse" x1="322.1" y1="0" x2="541.4" y2="0"><stop offset="0.0125" stop-color="#ff7800"/><stop offset="0.8125" stop-color="#ff7800"/><stop offset="0.8375" stop-color="#ffa200"/><stop offset="0.8625" stop-color="#ff7800"/><stop offset="0.8875" stop-color="#ffa200"/><stop offset="0.9125" stop-color="#ff7800"/><stop offset="0.9375" stop-color="#ffa200"/><stop offset="0.9875" stop-color="#ffa200"/></linearGradient>
<linearGradient id="gd9" gradientUnits="userSpaceOnUse" x1="322.1" y1="0" x2="541.4" y2="0"><stop offset="0.0125" stop-color="#ff7800"/><stop offset="0.8625" stop-color="#ff7800"/><stop offset="0.8875" stop-color="#ffa200"/><stop offset="0.9875" stop-color="#ffa200"/></linearGradient>
<linearGradient id="gd10" gradientUnits="userSpaceOnUse" x1="322.1" y1="0" x2="541.4" y2="0"><stop offset="0.0125" stop-color="#ff7800"/><stop offset="0.0375" stop-color="#ffa200"/><stop offset="0.0625" stop-color="#ff7800"/><stop offset="0.8625" stop-color="#ff7800"/><stop offset="0.8875" stop-color="#ffa200"/><stop offset="0.9875" stop-color="#ffa200"/></linearGradient>
<linearGradient id="gd11" gradientUnits="userSpaceOnUse" x1="322.1" y1="0" x2="541.4" y2="0"><stop offset="0.0125" stop-color="#ffa200"/><stop offset="0.0875" stop-color="#ffa200"/><stop offset="0.1125" stop-color="#ff7800"/><stop offset="0.8625" stop-color="#ff7800"/><stop offset="0.8875" stop-color="#ffa200"/><stop offset="0.9875" stop-color="#ffa200"/></linearGradient>
<clipPath id="cpd"><rect x="322.1" y="153.9" width="219.3" height="47.8"/></clipPath>
</defs>
<g clip-path="url(#cpd)">
<g filter="url(#bl)">
<rect x="314.1" y="146.6" width="235.3" height="12.10" fill="url(#gd0)"/>
<rect x="314.1" y="158.6" width="235.3" height="4.10" fill="url(#gd1)"/>
<rect x="314.1" y="162.6" width="235.3" height="4.10" fill="url(#gd2)"/>
<rect x="314.1" y="166.6" width="235.3" height="4.10" fill="url(#gd3)"/>
<rect x="314.1" y="170.6" width="235.3" height="4.10" fill="url(#gd4)"/>
<rect x="314.1" y="174.6" width="235.3" height="4.10" fill="url(#gd5)"/>
<rect x="314.1" y="178.6" width="235.3" height="4.10" fill="url(#gd6)"/>
<rect x="314.1" y="182.6" width="235.3" height="4.10" fill="url(#gd7)"/>
<rect x="314.1" y="186.6" width="235.3" height="4.10" fill="url(#gd8)"/>
<rect x="314.1" y="190.6" width="235.3" height="4.10" fill="url(#gd9)"/>
<rect x="314.1" y="194.6" width="235.3" height="4.10" fill="url(#gd10)"/>
<rect x="314.1" y="198.6" width="235.3" height="14.10" fill="url(#gd11)"/>
</g>
<path d="M353.0,190.5V181.9L362.9,188.2V190.5zM362.9,190.5V181.9L372.8,188.2V190.5zM372.8,190.5V181.9L382.7,188.2V190.5zM382.7,190.5V181.9L392.6,188.2V190.5zM392.6,190.5V181.9L402.5,188.2V190.5zM402.5,190.5V181.9L412.4,188.2V190.5zM412.4,190.5V181.9L422.3,188.2V190.5zM422.3,190.5V181.9L432.2,188.2V190.5zM432.2,190.5V181.9L442.1,188.2V190.5zM442.1,190.5V181.9L452.0,188.2V190.5zM452.0,190.5V181.9L461.9,188.2V190.5zM461.9,190.5V181.9L471.8,188.2V190.5zM471.8,190.5V181.9L481.7,188.2V190.5z" fill="url(#gd8)"/>
<path d="M353.0,187.4V182.2L355.2,187.4zM362.9,187.4V182.2L365.1,187.4zM372.8,187.4V182.2L375.0,187.4zM382.7,187.4V182.2L384.9,187.4zM392.6,187.4V182.2L394.8,187.4zM402.5,187.4V182.2L404.7,187.4zM412.4,187.4V182.2L414.6,187.4zM422.3,187.4V182.2L424.5,187.4zM432.2,187.4V182.2L434.4,187.4zM442.1,187.4V182.2L444.3,187.4zM452.0,187.4V182.2L454.2,187.4zM461.9,187.4V182.2L464.1,187.4zM471.8,187.4V182.2L474.0,187.4z" fill="#f4401a" opacity="0.75"/>
<path d="M473.8,182.3L480.8,179.3V185.9zM483.7,182.3L490.7,179.3V185.9zM493.6,182.3L500.6,179.3V185.9zM503.5,182.3L510.5,179.3V185.9zM513.4,182.3L520.4,179.3V185.9z" fill="#50f4c8" opacity="0.85"/>
<path d="M472.1,183.8Q474.3,176.8 484.3,170.8M482.0,183.8Q484.2,176.8 494.2,170.8M491.9,183.8Q494.1,176.8 504.1,170.8M501.8,183.8Q504.0,176.8 514.0,170.8M511.7,183.8Q513.9,176.8 523.9,170.8" fill="none" stroke="#ff3c00" stroke-width="1.1" stroke-linecap="round" opacity="0.75"/>
<path d="M521.6,183.8Q523.8,176.8 533.8,170.8M531.5,183.8Q533.7,176.8 543.7,170.8" fill="none" stroke="#ff3000" stroke-width="1.1" stroke-linecap="round" opacity="0.75"/>
<path d="M472.3,182.1L480.4,187.3M482.2,182.1L490.3,187.3M492.1,182.1L500.2,187.3M502.0,182.1L510.1,187.3M511.9,182.1L520.0,187.3M521.8,182.1L529.9,187.3M531.7,182.1L539.8,187.3" fill="none" stroke="#fff0a0" stroke-width="0.7" opacity="0.85"/>
</g>
<line x1="323.6" y1="178.7" x2="540.9" y2="178.7" stroke="#0a0a0a" stroke-width="1.7" stroke-dasharray="3.9 2.3"/>
<rect x="322.1" y="154.7" width="219.3" height="47.0" fill="none" stroke="#111" stroke-width="1.25"/>
<text transform="translate(324.3,191.7) scale(1,1.09)" font-size="12.30" class="r" style="fill:#1c0c04;stroke:#1c0c04;stroke-width:0.18">Pressure measurement position</text>
<text x="318.5" y="162.5" font-size="9.25" class="b" text-anchor="end">Ps (Pa)</text>
<rect x="310.1" y="168.7" width="4.6" height="33.1" fill="url(#cb)"/>
<text transform="translate(307.1,173.1) scale(1.08,1)" font-size="7.2" class="b" text-anchor="end" style="stroke:#111;stroke-width:0.22">160,000</text>
<text transform="translate(307.7,203.3) scale(1.08,1)" font-size="7.2" class="b" text-anchor="end" style="stroke:#111;stroke-width:0.22">0</text>
<line x1="322.1" y1="211.9" x2="541.4" y2="211.9" class="g"/>
<line x1="322.1" y1="231.1" x2="541.4" y2="231.1" class="g"/>
<line x1="322.1" y1="250.0" x2="541.4" y2="250.0" class="g"/>
<line x1="358.7" y1="202.3" x2="358.7" y2="259.6" class="v"/>
<line x1="395.2" y1="202.3" x2="395.2" y2="259.6" class="v"/>
<line x1="431.8" y1="202.3" x2="431.8" y2="259.6" class="v"/>
<line x1="468.3" y1="202.3" x2="468.3" y2="259.6" class="v"/>
<line x1="504.8" y1="202.3" x2="504.8" y2="259.6" class="v"/>
<line x1="541.4" y1="202.3" x2="541.4" y2="259.6" class="v"/>
<path d="M322.1,201.7V259.6H541.7" fill="none" stroke="#3a3a3a" stroke-width="0.9"/>
<path d="M322.1,211.9h-2M322.1,231.1h-2M322.1,250.0h-2M322.1,221.4h-1.2M322.1,240.6h-1.2M322.1,259.6v2M358.7,259.6v2M395.2,259.6v2M431.8,259.6v2M468.3,259.6v2M504.8,259.6v2M541.4,259.6v2M340.4,259.6v1.2M376.9,259.6v1.2M413.5,259.6v1.2M450.0,259.6v1.2M486.6,259.6v1.2M523.1,259.6v1.2" stroke="#3a3a3a" stroke-width="0.8" fill="none"/>
<text transform="translate(318.1,214.9) scale(1.08,1)" font-size="7.2" class="b" text-anchor="end" style="stroke:#111;stroke-width:0.22">120,000</text>
<text transform="translate(318.1,234.1) scale(1.08,1)" font-size="7.2" class="b" text-anchor="end" style="stroke:#111;stroke-width:0.22">8,000</text>
<text transform="translate(318.1,253.0) scale(1.08,1)" font-size="7.2" class="b" text-anchor="end" style="stroke:#111;stroke-width:0.22">4,000</text>
<text transform="translate(291.1,233.0) rotate(-90)" font-size="9.2" class="b" text-anchor="middle">Ps (Pa)</text>
<text x="322.4" y="271.7" font-size="7.7" class="b" text-anchor="middle">0</text>
<text x="359.0" y="271.7" font-size="7.7" class="b" text-anchor="middle">60</text>
<text x="395.5" y="271.7" font-size="7.7" class="b" text-anchor="middle">120</text>
<text x="432.1" y="271.7" font-size="7.7" class="b" text-anchor="middle">180</text>
<text x="468.6" y="271.7" font-size="7.7" class="b" text-anchor="middle">240</text>
<text x="505.1" y="271.7" font-size="7.7" class="b" text-anchor="middle">300</text>
<text x="541.7" y="271.7" font-size="7.7" class="b" text-anchor="middle">360</text>
<text x="431.8" y="282.2" font-size="9.3" class="b" text-anchor="middle">Theta (degree)</text>
<path d="M330.4,178.7V201.7M354.1,178.7V201.7" stroke="#b81410" stroke-width="0.7" fill="none" opacity="0.75"/>
<path d="M330.4,201.7V259.6M354.1,201.7V259.6" stroke="#e8282c" stroke-width="0.9" fill="none"/>
<path d="M333.4,249.3H351.1" stroke="#d4151b" stroke-width="1.1"/>
<path d="M331.1,249.3l7.0,-3.3v6.6zM353.4,249.3l-7.0,-3.3v6.6z" fill="#cc0f16"/>
<path d="M322.1,228.2C322.3,227.4 322.9,223.4 323.5,223.5C324.2,223.6 324.9,226.0 325.7,228.9C326.6,231.9 327.7,240.9 328.6,241.3C329.6,241.6 330.5,234.0 331.5,231.1C332.6,228.2 333.7,224.9 334.7,224.1C335.8,223.3 336.9,227.0 338.1,226.4C339.3,225.9 340.6,221.9 341.7,220.6C342.8,219.3 343.7,220.1 344.6,218.7C345.6,217.4 346.5,212.1 347.5,212.5C348.6,212.8 349.8,219.0 350.7,220.9C351.7,222.8 352.3,221.9 353.1,223.8C353.8,225.8 354.2,229.6 355.1,232.5C356.0,235.5 357.2,239.2 358.5,241.6C359.7,243.9 361.4,246.3 362.8,246.8C364.3,247.3 366.0,244.5 367.2,244.5C368.3,244.4 368.7,246.8 369.7,246.4C370.6,245.9 371.9,243.1 373.0,241.6C374.1,240.0 375.3,237.1 376.3,237.2C377.4,237.3 378.4,240.4 379.5,242.0C380.7,243.6 382.0,246.6 383.2,246.8C384.3,247.0 385.4,245.2 386.5,243.5C387.6,241.8 388.7,237.2 389.7,236.6C390.7,236.1 391.9,238.9 392.6,240.1C393.4,241.3 393.8,243.3 394.2,243.9C394.6,244.5 394.6,245.7 395.1,243.9C395.6,242.1 396.2,235.8 397.1,233.3C398.0,230.7 399.2,228.9 400.4,228.5C401.6,228.1 402.6,230.4 404.4,230.8C406.1,231.2 409.0,231.2 410.9,231.1C412.8,231.0 414.6,230.9 416.0,230.4C417.4,229.8 418.2,227.9 419.3,227.9C420.5,227.9 421.6,230.7 422.8,230.4C424.0,230.0 425.5,226.0 426.6,226.0C427.7,226.0 428.3,229.3 429.5,230.4C430.8,231.4 432.7,232.6 434.2,232.3C435.6,231.9 436.9,228.7 438.3,228.5C439.6,228.3 441.0,230.4 442.2,231.1C443.3,231.8 443.9,233.4 445.1,232.8C446.3,232.2 448.2,227.9 449.5,227.5C450.7,227.0 451.5,229.3 452.4,229.9C453.2,230.5 453.6,232.4 454.5,231.1C455.5,229.8 457.1,222.7 458.2,222.4C459.3,222.0 460.2,228.2 461.1,228.9C461.9,229.6 462.5,228.8 463.3,226.7C464.0,224.6 464.6,216.3 465.5,216.3C466.3,216.3 467.3,224.6 468.4,226.7C469.5,228.8 471.0,231.2 472.0,228.9C473.0,226.6 473.5,213.4 474.5,212.9C475.4,212.4 476.6,223.3 477.8,226.0C479.0,228.7 480.7,231.5 481.7,228.9C482.7,226.4 483.1,211.3 483.9,210.7C484.8,210.1 485.7,222.1 486.8,225.3C488.0,228.4 489.9,232.7 490.9,229.6C491.9,226.5 492.1,207.9 492.9,206.7C493.8,205.4 494.7,218.4 495.8,222.4C497.0,226.3 498.6,232.8 499.6,230.4C500.6,227.9 500.9,208.6 501.8,207.5C502.7,206.4 504.0,220.2 505.0,223.8C506.0,227.5 506.8,231.5 507.6,229.3C508.4,227.2 509.1,213.5 509.8,210.7C510.5,208.0 511.2,212.6 511.8,212.9C512.5,213.2 513.2,210.9 513.7,212.5C514.3,214.0 514.6,222.0 515.2,222.1C515.7,222.1 516.2,214.7 517.1,212.9C517.9,211.1 519.3,212.0 520.3,211.5C521.3,210.9 522.0,211.0 523.2,209.6C524.4,208.1 526.5,203.4 527.5,202.7C528.6,202.1 528.9,203.9 529.7,205.6C530.6,207.3 531.5,209.8 532.6,212.9C533.7,216.1 534.8,222.1 536.3,224.5C537.7,227.0 540.5,227.0 541.4,227.5" fill="none" stroke="#161616" stroke-width="1.45" stroke-linejoin="round" stroke-linecap="round"/>
<text x="413.3" y="298.6" font-size="12.2" class="r" text-anchor="middle">(<tspan style="font-weight:bold">d</tspan>)</text>
</g>
<g>
<defs>
<linearGradient id="ge0" gradientUnits="userSpaceOnUse" x1="41.4" y1="0" x2="263.8" y2="0"><stop offset="0.0125" stop-color="#84ff84"/><stop offset="0.1125" stop-color="#84ff84"/><stop offset="0.1375" stop-color="#c8ff40"/><stop offset="0.1625" stop-color="#fffa08"/><stop offset="0.2375" stop-color="#fffa08"/><stop offset="0.2625" stop-color="#c8ff40"/><stop offset="0.3375" stop-color="#c8ff40"/><stop offset="0.3625" stop-color="#fffa08"/><stop offset="0.3875" stop-color="#ffd200"/><stop offset="0.4125" stop-color="#ffd200"/><stop offset="0.4375" stop-color="#ffa200"/><stop offset="0.4875" stop-color="#ffa200"/><stop offset="0.5125" stop-color="#ffd200"/><stop offset="0.6125" stop-color="#ffd200"/><stop offset="0.6375" stop-color="#fffa08"/><stop offset="0.6875" stop-color="#fffa08"/><stop offset="0.7125" stop-color="#ffd200"/><stop offset="0.7625" stop-color="#ffd200"/><stop offset="0.7875" stop-color="#fffa08"/><stop offset="0.8125" stop-color="#fffa08"/><stop offset="0.8375" stop-color="#c8ff40"/><stop offset="0.8625" stop-color="#84ff84"/><stop offset="0.8875" stop-color="#84ff84"/><stop offset="0.9125" stop-color="#48ffc0"/><stop offset="0.9875" stop-color="#48ffc0"/></linearGradient>
<linearGradient id="ge1" gradientUnits="userSpaceOnUse" x1="41.4" y1="0" x2="263.8" y2="0"><stop offset="0.0125" stop-color="#84ff84"/><stop offset="0.1125" stop-color="#84ff84"/><stop offset="0.1375" stop-color="#c8ff40"/><stop offset="0.1625" stop-color="#fffa08"/><stop offset="0.2375" stop-color="#fffa08"/><stop offset="0.2625" stop-color="#c8ff40"/><stop offset="0.3375" stop-color="#c8ff40"/><stop offset="0.3625" stop-color="#fffa08"/><stop offset="0.3875" stop-color="#ffd200"/><stop offset="0.4125" stop-color="#ffa200"/><stop offset="0.4625" stop-color="#ffa200"/><stop offset="0.4875" stop-color="#ff7800"/><stop offset="0.5125" stop-color="#ff7800"/><stop offset="0.5375" stop-color="#ffa200"/><stop offset="0.5625" stop-color="#ffa200"/><stop offset="0.5875" stop-color="#ffd200"/><stop offset="0.6125" stop-color="#ffd200"/><stop offset="0.6375" stop-color="#fffa08"/><stop offset="0.6875" stop-color="#fffa08"/><stop offset="0.7125" stop-color="#ffd200"/><stop offset="0.7375" stop-color="#ffd200"/><stop offset="0.7625" stop-color="#fffa08"/><stop offset="0.7875" stop-color="#fffa08"/><stop offset="0.8125" stop-color="#c8ff40"/><stop offset="0.8375" stop-color="#84ff84"/><stop offset="0.8625" stop-color="#84ff84"/><stop offset="0.8875" stop-color="#48ffc0"/><stop offset="0.9125" stop-color="#48ffc0"/><stop offset="0.9375" stop-color="#0cf4fc"/><stop offset="0.9625" stop-color="#0cf4fc"/><stop offset="0.9875" stop-color="#48ffc0"/></linearGradient>
<linearGradient id="ge2" gradientUnits="userSpaceOnUse" x1="41.4" y1="0" x2="263.8" y2="0"><stop offset="0.0125" stop-color="#84ff84"/><stop offset="0.0375" stop-color="#48ffc0"/><stop offset="0.0875" stop-color="#48ffc0"/><stop offset="0.1125" stop-color="#84ff84"/><stop offset="0.1375" stop-color="#fffa08"/><stop offset="0.2125" stop-color="#fffa08"/><stop offset="0.2375" stop-color="#c8ff40"/><stop offset="0.2625" stop-color="#c8ff40"/><stop offset="0.2875" stop-color="#fffa08"/><stop offset="0.3125" stop-color="#c8ff40"/><stop offset="0.3375" stop-color="#c8ff40"/><stop offset="0.3625" stop-color="#fffa08"/><stop offset="0.3875" stop-color="#ffd200"/><stop offset="0.4125" stop-color="#ffa200"/><stop offset="0.4375" stop-color="#ffa200"/><stop offset="0.4625" stop-color="#ff7800"/><stop offset="0.5375" stop-color="#ff7800"/><stop offset="0.5625" stop-color="#ffa200"/><stop offset="0.5875" stop-color="#ffd200"/><stop offset="0.6125" stop-color="#fffa08"/><stop offset="0.6375" stop-color="#c8ff40"/><stop offset="0.6625" stop-color="#c8ff40"/><stop offset="0.6875" stop-color="#fffa08"/><stop offset="0.7125" stop-color="#ffd200"/><stop offset="0.7375" stop-color="#ffa200"/><stop offset="0.7625" stop-color="#fffa08"/><stop offset="0.7875" stop-color="#c8ff40"/><stop offset="0.8125" stop-color="#84ff84"/><stop offset="0.8375" stop-color="#84ff84"/><stop offset="0.8625" stop-color="#c8ff40"/><stop offset="0.8875" stop-color="#48ffc0"/><stop offset="0.9125" stop-color="#0cf4fc"/><stop offset="0.9875" stop-color="#0cf4fc"/></linearGradient>
<linearGradient id="ge3" gradientUnits="userSpaceOnUse" x1="41.4" y1="0" x2="263.8" y2="0"><stop offset="0.0125" stop-color="#fffa08"/><stop offset="0.0375" stop-color="#48ffc0"/><stop offset="0.0875" stop-color="#48ffc0"/><stop offset="0.1125" stop-color="#84ff84"/><stop offset="0.1375" stop-color="#fffa08"/><stop offset="0.1875" stop-color="#fffa08"/><stop offset="0.2125" stop-color="#c8ff40"/><stop offset="0.3125" stop-color="#c8ff40"/><stop offset="0.3375" stop-color="#fffa08"/><stop offset="0.3625" stop-color="#fffa08"/><stop offset="0.3875" stop-color="#ffd200"/><stop offset="0.4125" stop-color="#ffa200"/><stop offset="0.4375" stop-color="#ff7800"/><stop offset="0.5625" stop-color="#ff7800"/><stop offset="0.5875" stop-color="#ffd200"/><stop offset="0.6125" stop-color="#c8ff40"/><stop offset="0.6375" stop-color="#48ffc0"/><stop offset="0.6625" stop-color="#c8ff40"/><stop offset="0.6875" stop-color="#c8ff40"/><stop offset="0.7125" stop-color="#ffd200"/><stop offset="0.7375" stop-color="#ffa200"/><stop offset="0.7625" stop-color="#fffa08"/><stop offset="0.7875" stop-color="#48ffc0"/><stop offset="0.8125" stop-color="#0cf4fc"/><stop offset="0.8375" stop-color="#fffa08"/><stop offset="0.8625" stop-color="#48ffc0"/><stop offset="0.8875" stop-color="#0cf4fc"/><stop offset="0.9125" stop-color="#0cf4fc"/><stop offset="0.9375" stop-color="#08b8ff"/><stop offset="0.9625" stop-color="#0cf4fc"/><stop offset="0.9875" stop-color="#c8ff40"/></linearGradient>
<linearGradient id="ge4" gradientUnits="userSpaceOnUse" x1="41.4" y1="0" x2="263.8" y2="0"><stop offset="0.0125" stop-color="#c8ff40"/><stop offset="0.0375" stop-color="#48ffc0"/><stop offset="0.0625" stop-color="#48ffc0"/><stop offset="0.0875" stop-color="#84ff84"/><stop offset="0.1125" stop-color="#c8ff40"/><stop offset="0.1375" stop-color="#fffa08"/><stop offset="0.1875" stop-color="#fffa08"/><stop offset="0.2125" stop-color="#c8ff40"/><stop offset="0.2375" stop-color="#84ff84"/><stop offset="0.2625" stop-color="#84ff84"/><stop offset="0.2875" stop-color="#c8ff40"/><stop offset="0.3125" stop-color="#c8ff40"/><stop offset="0.3375" stop-color="#fffa08"/><stop offset="0.3625" stop-color="#ffd200"/><stop offset="0.3875" stop-color="#ffa200"/><stop offset="0.4125" stop-color="#ffa200"/><stop offset="0.4375" stop-color="#ff7800"/><stop offset="0.4625" stop-color="#ff7800"/><stop offset="0.4875" stop-color="#ff5200"/><stop offset="0.5375" stop-color="#ff5200"/><stop offset="0.5625" stop-color="#ff7800"/><stop offset="0.5875" stop-color="#ffd200"/><stop offset="0.6125" stop-color="#0cf4fc"/><stop offset="0.6375" stop-color="#0cf4fc"/><stop offset="0.6625" stop-color="#c8ff40"/><stop offset="0.6875" stop-color="#fffa08"/><stop offset="0.7125" stop-color="#ffa200"/><stop offset="0.7375" stop-color="#ffa200"/><stop offset="0.7625" stop-color="#c8ff40"/><stop offset="0.7875" stop-color="#0cf4fc"/><stop offset="0.8125" stop-color="#0c78ff"/><stop offset="0.8375" stop-color="#fffa08"/><stop offset="0.8625" stop-color="#0cf4fc"/><stop offset="0.8875" stop-color="#08b8ff"/><stop offset="0.9125" stop-color="#0c78ff"/><stop offset="0.9375" stop-color="#0c78ff"/><stop offset="0.9625" stop-color="#08b8ff"/><stop offset="0.9875" stop-color="#48ffc0"/></linearGradient>
<linearGradient id="ge5" gradientUnits="userSpaceOnUse" x1="41.4" y1="0" x2="263.8" y2="0"><stop offset="0.0125" stop-color="#48ffc0"/><stop offset="0.0625" stop-color="#48ffc0"/><stop offset="0.0875" stop-color="#c8ff40"/><stop offset="0.1125" stop-color="#c8ff40"/><stop offset="0.1375" stop-color="#fffa08"/><stop offset="0.1625" stop-color="#fffa08"/><stop offset="0.1875" stop-color="#c8ff40"/><stop offset="0.2125" stop-color="#84ff84"/><stop offset="0.2375" stop-color="#48ffc0"/><stop offset="0.2625" stop-color="#48ffc0"/><stop offset="0.2875" stop-color="#84ff84"/><stop offset="0.3125" stop-color="#c8ff40"/><stop offset="0.3375" stop-color="#c8ff40"/><stop offset="0.3625" stop-color="#ffd200"/><stop offset="0.3875" stop-color="#c8ff40"/><stop offset="0.4125" stop-color="#ffa200"/><stop offset="0.4375" stop-color="#ff7800"/><stop offset="0.4875" stop-color="#ff7800"/><stop offset="0.5125" stop-color="#ff5200"/><stop offset="0.5625" stop-color="#ff5200"/><stop offset="0.5875" stop-color="#ffa200"/><stop offset="0.6125" stop-color="#0cf4fc"/><stop offset="0.6375" stop-color="#0cf4fc"/><stop offset="0.6625" stop-color="#fffa08"/><stop offset="0.6875" stop-color="#ffd200"/><stop offset="0.7125" stop-color="#ffa200"/><stop offset="0.7375" stop-color="#ff7800"/><stop offset="0.7625" stop-color="#ffd200"/><stop offset="0.7875" stop-color="#0cf4fc"/><stop offset="0.8125" stop-color="#08b8ff"/><stop offset="0.8375" stop-color="#0cf4fc"/><stop offset="0.8625" stop-color="#08b8ff"/><stop offset="0.8875" stop-color="#0c78ff"/><stop offset="0.9375" stop-color="#0c78ff"/><stop offset="0.9625" stop-color="#08b8ff"/><stop offset="0.9875" stop-color="#0cf4fc"/></linearGradient>
<linearGradient id="ge6" gradientUnits="userSpaceOnUse" x1="41.4" y1="0" x2="263.8" y2="0"><stop offset="0.0125" stop-color="#0cf4fc"/><stop offset="0.0375" stop-color="#0cf4fc"/><stop offset="0.0625" stop-color="#48ffc0"/><stop offset="0.0875" stop-color="#c8ff40"/><stop offset="0.1125" stop-color="#fffa08"/><stop offset="0.1375" stop-color="#c8ff40"/><stop offset="0.1625" stop-color="#48ffc0"/><stop offset="0.2875" stop-color="#48ffc0"/><stop offset="0.3125" stop-color="#84ff84"/><stop offset="0.3375" stop-color="#c8ff40"/><stop offset="0.3625" stop-color="#ffa200"/><stop offset="0.3875" stop-color="#ff5200"/><stop offset="0.4125" stop-color="#0cf4fc"/><stop offset="0.4375" stop-color="#ff5200"/><stop offset="0.4625" stop-color="#ffa200"/><stop offset="0.5125" stop-color="#ffa200"/><stop offset="0.5375" stop-color="#ff7800"/><stop offset="0.5625" stop-color="#ff5200"/><stop offset="0.5875" stop-color="#ffa200"/><stop offset="0.6125" stop-color="#0cf4fc"/><stop offset="0.6375" stop-color="#48ffc0"/><stop offset="0.6625" stop-color="#fffa08"/><stop offset="0.6875" stop-color="#ffa200"/><stop offset="0.7125" stop-color="#ff7800"/><stop offset="0.7375" stop-color="#ff5200"/><stop offset="0.7625" stop-color="#48ffc0"/><stop offset="0.7875" stop-color="#0cf4fc"/><stop offset="0.8125" stop-color="#08b8ff"/><stop offset="0.8375" stop-color="#08b8ff"/><stop offset="0.8625" stop-color="#0c78ff"/><stop offset="0.9125" stop-color="#0c78ff"/><stop offset="0.9375" stop-color="#08b8ff"/><stop offset="0.9625" stop-color="#0cf4fc"/><stop offset="0.9875" stop-color="#0cf4fc"/></linearGradient>
<linearGradient id="ge7" gradientUnits="userSpaceOnUse" x1="41.4" y1="0" x2="263.8" y2="0"><stop offset="0.0125" stop-color="#ff7800"/><stop offset="0.3125" stop-color="#ff7800"/><stop offset="0.3375" stop-color="#ff5200"/><stop offset="0.3625" stop-color="#ff7800"/><stop offset="0.3875" stop-color="#ff5200"/><stop offset="0.4125" stop-color="#ff7800"/><stop offset="0.4875" stop-color="#ff7800"/><stop offset="0.5125" stop-color="#ffa200"/><stop offset="0.5375" stop-color="#ffa200"/><stop offset="0.5625" stop-color="#ff7800"/><stop offset="0.5875" stop-color="#ffa200"/><stop offset="0.6125" stop-color="#ffd200"/><stop offset="0.6375" stop-color="#ffd200"/><stop offset="0.6625" stop-color="#ffa200"/><stop offset="0.6875" stop-color="#ff7800"/><stop offset="0.7125" stop-color="#ff5200"/><stop offset="0.7375" stop-color="#ff5200"/><stop offset="0.7625" stop-color="#0cf4fc"/><stop offset="0.8875" stop-color="#0cf4fc"/><stop offset="0.9125" stop-color="#fffa08"/><stop offset="0.9375" stop-color="#0cf4fc"/><stop offset="0.9625" stop-color="#0cf4fc"/><stop offset="0.9875" stop-color="#fffa08"/></linearGradient>
<linearGradient id="ge8" gradientUnits="userSpaceOnUse" x1="41.4" y1="0" x2="263.8" y2="0"><stop offset="0.0125" stop-color="#ff7800"/><stop offset="0.4875" stop-color="#ff7800"/><stop offset="0.5125" stop-color="#ffa200"/><stop offset="0.5375" stop-color="#ffa200"/><stop offset="0.5625" stop-color="#ff7800"/><stop offset="0.5875" stop-color="#ffa200"/><stop offset="0.6625" stop-color="#ffa200"/><stop offset="0.6875" stop-color="#ff7800"/><stop offset="0.7125" stop-color="#ff5200"/><stop offset="0.8625" stop-color="#ff5200"/><stop offset="0.8875" stop-color="#ff7800"/><stop offset="0.9125" stop-color="#ff5200"/><stop offset="0.9375" stop-color="#ff5200"/><stop offset="0.9625" stop-color="#ff7800"/><stop offset="0.9875" stop-color="#ff7800"/></linearGradient>
<linearGradient id="ge9" gradientUnits="userSpaceOnUse" x1="41.4" y1="0" x2="263.8" y2="0"><stop offset="0.0125" stop-color="#ff7800"/><stop offset="0.4875" stop-color="#ff7800"/><stop offset="0.5125" stop-color="#ffa200"/><stop offset="0.6625" stop-color="#ffa200"/><stop offset="0.6875" stop-color="#ff7800"/><stop offset="0.7125" stop-color="#ff5200"/><stop offset="0.8375" stop-color="#ff5200"/><stop offset="0.8625" stop-color="#ff7800"/><stop offset="0.9875" stop-color="#ff7800"/></linearGradient>
<linearGradient id="ge10" gradientUnits="userSpaceOnUse" x1="41.4" y1="0" x2="263.8" y2="0"><stop offset="0.0125" stop-color="#ff7800"/><stop offset="0.4375" stop-color="#ff7800"/><stop offset="0.4625" stop-color="#ffa200"/><stop offset="0.6625" stop-color="#ffa200"/><stop offset="0.6875" stop-color="#ff7800"/><stop offset="0.7125" stop-color="#ff7800"/><stop offset="0.7375" stop-color="#ff5200"/><stop offset="0.8125" stop-color="#ff5200"/><stop offset="0.8375" stop-color="#ff7800"/><stop offset="0.9875" stop-color="#ff7800"/></linearGradient>
<linearGradient id="ge11" gradientUnits="userSpaceOnUse" x1="41.4" y1="0" x2="263.8" y2="0"><stop offset="0.0125" stop-color="#ff7800"/><stop offset="0.4375" stop-color="#ff7800"/><stop offset="0.4625" stop-color="#ffa200"/><stop offset="0.6625" stop-color="#ffa200"/><stop offset="0.6875" stop-color="#ff7800"/><stop offset="0.9875" stop-color="#ff7800"/></linearGradient>
<clipPath id="cpe"><rect x="41.4" y="305.7" width="222.4" height="48.9"/></clipPath>
</defs>
<g clip-path="url(#cpe)">
<g filter="url(#bl)">
<rect x="33.4" y="298.4" width="238.4" height="12.10" fill="url(#ge0)"/>
<rect x="33.4" y="310.4" width="238.4" height="4.10" fill="url(#ge1)"/>
<rect x="33.4" y="314.4" width="238.4" height="4.10" fill="url(#ge2)"/>
<rect x="33.4" y="318.4" width="238.4" height="4.10" fill="url(#ge3)"/>
<rect x="33.4" y="322.4" width="238.4" height="4.10" fill="url(#ge4)"/>
<rect x="33.4" y="326.4" width="238.4" height="4.10" fill="url(#ge5)"/>
<rect x="33.4" y="330.4" width="238.4" height="4.10" fill="url(#ge6)"/>
<rect x="33.4" y="334.4" width="238.4" height="4.10" fill="url(#ge7)"/>
<rect x="33.4" y="338.4" width="238.4" height="4.10" fill="url(#ge8)"/>
<rect x="33.4" y="342.4" width="238.4" height="4.10" fill="url(#ge9)"/>
<rect x="33.4" y="346.4" width="238.4" height="4.10" fill="url(#ge10)"/>
<rect x="33.4" y="350.4" width="238.4" height="14.10" fill="url(#ge11)"/>
</g>
<path d="M208.9,344.1V332.3L219.0,341.8V344.1zM219.0,344.1V332.3L229.1,341.8V344.1zM229.1,344.1V332.3L239.2,341.8V344.1zM239.2,344.1V332.3L249.3,341.8V344.1zM249.3,344.1V332.3L259.4,341.8V344.1z" fill="url(#ge8)"/>
<path d="M208.9,341.0V332.6L211.1,341.0zM219.0,341.0V332.6L221.2,341.0zM229.1,341.0V332.6L231.3,341.0zM239.2,341.0V332.6L241.4,341.0zM249.3,341.0V332.6L251.5,341.0z" fill="#f4401a" opacity="0.75"/>
<path d="M111.9,334.1L117.0,332.0V336.6zM122.0,334.1L127.1,332.0V336.6zM132.1,334.1L137.2,332.0V336.6zM142.3,334.1L147.3,332.0V336.6zM152.4,334.1L157.4,332.0V336.6z" fill="#40f4d0" opacity="0.85"/>
<path d="M87.8,335.6Q89.5,329.5 97.5,324.7M97.9,335.6Q99.6,329.5 107.6,324.7" fill="none" stroke="#ff6a00" stroke-width="1.1" stroke-linecap="round" opacity="0.75"/>
<path d="M108.1,335.6Q110.0,329.1 119.0,323.7M118.2,335.6Q120.1,329.1 129.1,323.7M128.3,335.6Q130.2,329.1 139.2,323.7M138.4,335.6Q140.3,329.1 149.3,323.7M148.5,335.6Q150.4,329.1 159.4,323.7" fill="none" stroke="#ff4000" stroke-width="1.1" stroke-linecap="round" opacity="0.75"/>
</g>
<line x1="42.9" y1="330.5" x2="263.3" y2="330.5" stroke="#0a0a0a" stroke-width="1.7" stroke-dasharray="3.9 2.3"/>
<rect x="41.4" y="306.5" width="222.4" height="48.1" fill="none" stroke="#111" stroke-width="1.25"/>
<text transform="translate(43.8,343.5) scale(1,1.09)" font-size="12.55" class="r" style="fill:#1c0c04;stroke:#1c0c04;stroke-width:0.18">Pressure measurement position</text>
<text x="37.8" y="314.3" font-size="9.25" class="b" text-anchor="end">Ps (Pa)</text>
<rect x="29.4" y="320.5" width="4.6" height="33.1" fill="url(#cb)"/>
<text transform="translate(26.4,324.9) scale(1.08,1)" font-size="7.2" class="b" text-anchor="end" style="stroke:#111;stroke-width:0.22">160,000</text>
<text transform="translate(27.0,355.1) scale(1.08,1)" font-size="7.2" class="b" text-anchor="end" style="stroke:#111;stroke-width:0.22">0</text>
<line x1="41.4" y1="364.2" x2="263.8" y2="364.2" class="g"/>
<line x1="41.4" y1="383.5" x2="263.8" y2="383.5" class="g"/>
<line x1="41.4" y1="403.5" x2="263.8" y2="403.5" class="g"/>
<line x1="78.5" y1="355.2" x2="78.5" y2="412.7" class="v"/>
<line x1="115.5" y1="355.2" x2="115.5" y2="412.7" class="v"/>
<line x1="152.6" y1="355.2" x2="152.6" y2="412.7" class="v"/>
<line x1="189.7" y1="355.2" x2="189.7" y2="412.7" class="v"/>
<line x1="226.7" y1="355.2" x2="226.7" y2="412.7" class="v"/>
<line x1="263.8" y1="355.2" x2="263.8" y2="412.7" class="v"/>
<path d="M41.4,354.6V412.7H264.1" fill="none" stroke="#3a3a3a" stroke-width="0.9"/>
<path d="M41.4,364.2h-2M41.4,383.5h-2M41.4,403.5h-2M41.4,374.0h-1.2M41.4,393.3h-1.2M41.4,412.7v2M78.5,412.7v2M115.5,412.7v2M152.6,412.7v2M189.7,412.7v2M226.7,412.7v2M263.8,412.7v2M59.9,412.7v1.2M97.0,412.7v1.2M134.1,412.7v1.2M171.1,412.7v1.2M208.2,412.7v1.2M245.3,412.7v1.2" stroke="#3a3a3a" stroke-width="0.8" fill="none"/>
<text transform="translate(37.4,367.2) scale(1.08,1)" font-size="7.2" class="b" text-anchor="end" style="stroke:#111;stroke-width:0.22">120,000</text>
<text transform="translate(37.4,386.5) scale(1.08,1)" font-size="7.2" class="b" text-anchor="end" style="stroke:#111;stroke-width:0.22">8,000</text>
<text transform="translate(37.4,406.5) scale(1.08,1)" font-size="7.2" class="b" text-anchor="end" style="stroke:#111;stroke-width:0.22">4,000</text>
<text transform="translate(10.4,385.4) rotate(-90)" font-size="9.2" class="b" text-anchor="middle">Ps (Pa)</text>
<text x="41.7" y="425.3" font-size="7.7" class="b" text-anchor="middle">0</text>
<text x="78.8" y="425.3" font-size="7.7" class="b" text-anchor="middle">60</text>
<text x="115.8" y="425.3" font-size="7.7" class="b" text-anchor="middle">120</text>
<text x="152.9" y="425.3" font-size="7.7" class="b" text-anchor="middle">180</text>
<text x="190.0" y="425.3" font-size="7.7" class="b" text-anchor="middle">240</text>
<text x="227.0" y="425.3" font-size="7.7" class="b" text-anchor="middle">300</text>
<text x="264.1" y="425.3" font-size="7.7" class="b" text-anchor="middle">360</text>
<text x="152.6" y="435.7" font-size="9.3" class="b" text-anchor="middle">Theta (degree)</text>
<path d="M189.6,330.5V354.6M217.8,330.5V354.6" stroke="#b81410" stroke-width="0.7" fill="none" opacity="0.75"/>
<path d="M189.6,354.6V412.7M217.8,354.6V412.7" stroke="#e8282c" stroke-width="0.9" fill="none"/>
<path d="M192.6,403.5H214.8" stroke="#d4151b" stroke-width="1.1"/>
<path d="M190.3,403.5l7.0,-3.3v6.6zM217.1,403.5l-7.0,-3.3v6.6z" fill="#cc0f16"/>
<path d="M41.4,385.0C42.2,384.7 44.8,383.3 46.5,383.4C48.2,383.4 49.8,385.4 51.5,385.3C53.2,385.2 55.1,383.2 56.6,382.8C58.2,382.4 59.4,384.1 61.0,383.1C62.6,382.1 64.5,377.2 66.1,377.0C67.7,376.7 69.4,382.1 70.7,381.6C72.1,381.2 73.1,374.3 74.4,374.4C75.7,374.4 77.3,380.4 78.5,381.9C79.6,383.5 80.2,384.8 81.4,383.8C82.5,382.8 84.0,376.2 85.3,376.1C86.6,376.0 88.0,381.8 89.1,383.1C90.2,384.4 91.0,385.0 92.0,383.8C93.0,382.6 94.0,376.1 95.2,375.8C96.3,375.6 97.8,381.0 98.8,382.4C99.8,383.7 100.0,385.0 101.0,383.8C102.0,382.6 103.4,375.3 104.6,375.1C105.8,374.8 107.3,381.2 108.3,382.4C109.2,383.6 109.7,384.4 110.5,382.4C111.2,380.4 112.1,372.1 112.6,370.3C113.1,368.5 113.0,370.0 113.5,371.5C113.9,372.9 114.9,377.3 115.3,378.7C115.6,380.1 115.3,379.5 115.6,379.9C116.2,380.3 117.6,384.0 118.5,380.9C119.4,377.9 120.1,362.2 121.0,361.6C121.9,361.0 122.8,373.5 123.9,377.3C125.0,381.1 126.7,387.4 127.7,384.3C128.8,381.1 129.3,359.8 130.2,358.4C131.1,357.0 132.1,371.5 133.1,375.8C134.1,380.2 135.1,386.5 136.0,384.5C136.9,382.6 137.7,367.2 138.5,363.9C139.2,360.6 139.7,363.0 140.4,364.9C141.0,366.8 141.8,375.2 142.5,375.5C143.3,375.8 143.9,368.7 144.7,366.8C145.6,364.9 146.7,364.1 147.6,363.9C148.6,363.7 149.6,366.0 150.5,365.6C151.5,365.3 152.5,363.1 153.5,362.0C154.4,360.9 155.3,359.3 156.4,359.1C157.5,358.8 158.8,360.2 160.0,360.5C161.2,360.9 162.5,360.4 163.6,361.3C164.7,362.2 165.6,364.6 166.5,365.9C167.5,367.3 168.5,368.4 169.5,369.3C170.4,370.2 171.4,369.2 172.4,371.5C173.3,373.8 174.4,379.6 175.3,383.1C176.1,386.6 176.7,390.5 177.5,392.5C178.2,394.6 178.8,395.6 179.6,395.5C180.5,395.3 181.5,393.5 182.5,391.8C183.6,390.1 185.1,386.8 186.2,385.3C187.3,383.8 188.2,383.3 189.1,382.8C190.0,382.3 190.1,383.6 191.4,382.4C192.6,381.1 194.6,376.8 196.5,375.1C198.3,373.4 200.6,373.3 202.3,372.2C204.0,371.0 205.5,369.1 206.6,368.3C207.7,367.5 208.1,366.6 208.8,367.4C209.5,368.2 210.3,372.1 211.0,372.9C211.7,373.7 212.5,371.3 213.2,372.2C213.9,373.0 214.7,375.1 215.4,378.0C216.0,380.9 216.5,387.5 217.1,389.6C217.7,391.8 218.1,391.3 219.0,391.1C219.9,390.9 221.6,388.0 222.6,388.6C223.7,389.2 224.3,393.2 225.1,394.7C226.0,396.2 226.6,397.0 227.7,397.6C228.9,398.3 230.8,398.0 232.1,398.8C233.4,399.6 234.7,401.7 235.7,402.7C236.7,403.8 237.2,405.2 238.2,405.2C239.2,405.2 240.1,403.6 241.5,402.7C243.0,401.8 245.2,400.9 246.6,399.8C248.1,398.7 249.2,398.1 250.3,396.2C251.4,394.2 252.0,390.8 253.2,388.2C254.4,385.5 256.3,380.8 257.5,380.2C258.8,379.5 259.4,383.6 260.5,384.3C261.5,384.9 263.2,384.3 263.8,384.3" fill="none" stroke="#161616" stroke-width="1.45" stroke-linejoin="round" stroke-linecap="round"/>
<text x="136.3" y="452.9" font-size="12.2" class="r" text-anchor="middle">(<tspan style="font-weight:bold">e</tspan>)</text>
</g>
<g>
<defs>
<linearGradient id="gf0" gradientUnits="userSpaceOnUse" x1="320.6" y1="0" x2="540.4" y2="0"><stop offset="0.0125" stop-color="#ffd200"/><stop offset="0.1375" stop-color="#ffd200"/><stop offset="0.1625" stop-color="#fffa08"/><stop offset="0.2125" stop-color="#fffa08"/><stop offset="0.2375" stop-color="#c8ff40"/><stop offset="0.2625" stop-color="#c8ff40"/><stop offset="0.2875" stop-color="#fffa08"/><stop offset="0.3125" stop-color="#fffa08"/><stop offset="0.3375" stop-color="#ffd200"/><stop offset="0.3625" stop-color="#ffd200"/><stop offset="0.3875" stop-color="#fffa08"/><stop offset="0.4125" stop-color="#fffa08"/><stop offset="0.4375" stop-color="#c8ff40"/><stop offset="0.4625" stop-color="#84ff84"/><stop offset="0.4875" stop-color="#48ffc0"/><stop offset="0.5625" stop-color="#48ffc0"/><stop offset="0.5875" stop-color="#84ff84"/><stop offset="0.6875" stop-color="#84ff84"/><stop offset="0.7125" stop-color="#c8ff40"/><stop offset="0.7375" stop-color="#fffa08"/><stop offset="0.9875" stop-color="#fffa08"/></linearGradient>
<linearGradient id="gf1" gradientUnits="userSpaceOnUse" x1="320.6" y1="0" x2="540.4" y2="0"><stop offset="0.0125" stop-color="#ffd200"/><stop offset="0.0375" stop-color="#ffa200"/><stop offset="0.0625" stop-color="#ff7800"/><stop offset="0.0875" stop-color="#ff7800"/><stop offset="0.1125" stop-color="#ffa200"/><stop offset="0.1375" stop-color="#ffd200"/><stop offset="0.1625" stop-color="#fffa08"/><stop offset="0.1875" stop-color="#c8ff40"/><stop offset="0.2625" stop-color="#c8ff40"/><stop offset="0.2875" stop-color="#fffa08"/><stop offset="0.3125" stop-color="#ffd200"/><stop offset="0.3625" stop-color="#ffd200"/><stop offset="0.3875" stop-color="#fffa08"/><stop offset="0.4125" stop-color="#fffa08"/><stop offset="0.4375" stop-color="#c8ff40"/><stop offset="0.4625" stop-color="#48ffc0"/><stop offset="0.4875" stop-color="#0cf4fc"/><stop offset="0.5125" stop-color="#0cf4fc"/><stop offset="0.5375" stop-color="#48ffc0"/><stop offset="0.5875" stop-color="#48ffc0"/><stop offset="0.6125" stop-color="#84ff84"/><stop offset="0.6375" stop-color="#84ff84"/><stop offset="0.6625" stop-color="#48ffc0"/><stop offset="0.6875" stop-color="#84ff84"/><stop offset="0.7125" stop-color="#84ff84"/><stop offset="0.7375" stop-color="#c8ff40"/><stop offset="0.7625" stop-color="#c8ff40"/><stop offset="0.7875" stop-color="#fffa08"/><stop offset="0.9875" stop-color="#fffa08"/></linearGradient>
<linearGradient id="gf2" gradientUnits="userSpaceOnUse" x1="320.6" y1="0" x2="540.4" y2="0"><stop offset="0.0125" stop-color="#ffa200"/><stop offset="0.0375" stop-color="#ff7800"/><stop offset="0.0875" stop-color="#ff7800"/><stop offset="0.1125" stop-color="#ffa200"/><stop offset="0.1375" stop-color="#ffd200"/><stop offset="0.1625" stop-color="#fffa08"/><stop offset="0.1875" stop-color="#c8ff40"/><stop offset="0.2375" stop-color="#c8ff40"/><stop offset="0.2625" stop-color="#ffd200"/><stop offset="0.2875" stop-color="#ffa200"/><stop offset="0.3125" stop-color="#ffa200"/><stop offset="0.3375" stop-color="#ff7800"/><stop offset="0.3625" stop-color="#ffa200"/><stop offset="0.3875" stop-color="#fffa08"/><stop offset="0.4125" stop-color="#c8ff40"/><stop offset="0.4375" stop-color="#48ffc0"/><stop offset="0.4625" stop-color="#0cf4fc"/><stop offset="0.5375" stop-color="#0cf4fc"/><stop offset="0.5625" stop-color="#48ffc0"/><stop offset="0.5875" stop-color="#48ffc0"/><stop offset="0.6125" stop-color="#84ff84"/><stop offset="0.6375" stop-color="#84ff84"/><stop offset="0.6625" stop-color="#48ffc0"/><stop offset="0.6875" stop-color="#48ffc0"/><stop offset="0.7125" stop-color="#84ff84"/><stop offset="0.7375" stop-color="#c8ff40"/><stop offset="0.7625" stop-color="#c8ff40"/><stop offset="0.7875" stop-color="#fffa08"/><stop offset="0.8125" stop-color="#fffa08"/><stop offset="0.8375" stop-color="#c8ff40"/><stop offset="0.8625" stop-color="#fffa08"/><stop offset="0.8875" stop-color="#fffa08"/><stop offset="0.9125" stop-color="#c8ff40"/><stop offset="0.9375" stop-color="#fffa08"/><stop offset="0.9625" stop-color="#fffa08"/><stop offset="0.9875" stop-color="#ffd200"/></linearGradient>
<linearGradient id="gf3" gradientUnits="userSpaceOnUse" x1="320.6" y1="0" x2="540.4" y2="0"><stop offset="0.0125" stop-color="#ffa200"/><stop offset="0.0375" stop-color="#ff7800"/><stop offset="0.1125" stop-color="#ff7800"/><stop offset="0.1375" stop-color="#fffa08"/><stop offset="0.1625" stop-color="#c8ff40"/><stop offset="0.2375" stop-color="#c8ff40"/><stop offset="0.2625" stop-color="#ffd200"/><stop offset="0.2875" stop-color="#ffa200"/><stop offset="0.3125" stop-color="#ff7800"/><stop offset="0.3375" stop-color="#ff7800"/><stop offset="0.3625" stop-color="#ffa200"/><stop offset="0.3875" stop-color="#c8ff40"/><stop offset="0.4125" stop-color="#c8ff40"/><stop offset="0.4375" stop-color="#0cf4fc"/><stop offset="0.4625" stop-color="#0cf4fc"/><stop offset="0.4875" stop-color="#08b8ff"/><stop offset="0.5125" stop-color="#0cf4fc"/><stop offset="0.5625" stop-color="#0cf4fc"/><stop offset="0.5875" stop-color="#48ffc0"/><stop offset="0.6125" stop-color="#84ff84"/><stop offset="0.6625" stop-color="#84ff84"/><stop offset="0.6875" stop-color="#48ffc0"/><stop offset="0.7125" stop-color="#84ff84"/><stop offset="0.7375" stop-color="#84ff84"/><stop offset="0.7625" stop-color="#c8ff40"/><stop offset="0.7875" stop-color="#fffa08"/><stop offset="0.8125" stop-color="#c8ff40"/><stop offset="0.8375" stop-color="#fffa08"/><stop offset="0.8625" stop-color="#fffa08"/><stop offset="0.8875" stop-color="#c8ff40"/><stop offset="0.9125" stop-color="#fffa08"/><stop offset="0.9375" stop-color="#fffa08"/><stop offset="0.9625" stop-color="#ffd200"/><stop offset="0.9875" stop-color="#fffa08"/></linearGradient>
<linearGradient id="gf4" gradientUnits="userSpaceOnUse" x1="320.6" y1="0" x2="540.4" y2="0"><stop offset="0.0125" stop-color="#ff7800"/><stop offset="0.0375" stop-color="#ff7800"/><stop offset="0.0625" stop-color="#ff5200"/><stop offset="0.0875" stop-color="#ff5200"/><stop offset="0.1125" stop-color="#ff7800"/><stop offset="0.1375" stop-color="#0cf4fc"/><stop offset="0.1625" stop-color="#0cf4fc"/><stop offset="0.1875" stop-color="#48ffc0"/><stop offset="0.2125" stop-color="#c8ff40"/><stop offset="0.2375" stop-color="#fffa08"/><stop offset="0.2625" stop-color="#ffa200"/><stop offset="0.2875" stop-color="#ff7800"/><stop offset="0.3375" stop-color="#ff7800"/><stop offset="0.3625" stop-color="#ffa200"/><stop offset="0.3875" stop-color="#48ffc0"/><stop offset="0.4125" stop-color="#0cf4fc"/><stop offset="0.4375" stop-color="#c8ff40"/><stop offset="0.4625" stop-color="#08b8ff"/><stop offset="0.4875" stop-color="#0c78ff"/><stop offset="0.5125" stop-color="#08b8ff"/><stop offset="0.5375" stop-color="#0cf4fc"/><stop offset="0.5625" stop-color="#0cf4fc"/><stop offset="0.5875" stop-color="#84ff84"/><stop offset="0.6125" stop-color="#c8ff40"/><stop offset="0.6375" stop-color="#84ff84"/><stop offset="0.7125" stop-color="#84ff84"/><stop offset="0.7375" stop-color="#c8ff40"/><stop offset="0.7625" stop-color="#fffa08"/><stop offset="0.7875" stop-color="#c8ff40"/><stop offset="0.8125" stop-color="#fffa08"/><stop offset="0.8375" stop-color="#c8ff40"/><stop offset="0.8625" stop-color="#fffa08"/><stop offset="0.8875" stop-color="#c8ff40"/><stop offset="0.9125" stop-color="#fffa08"/><stop offset="0.9375" stop-color="#c8ff40"/><stop offset="0.9625" stop-color="#ffa200"/><stop offset="0.9875" stop-color="#fffa08"/></linearGradient>
<linearGradient id="gf5" gradientUnits="userSpaceOnUse" x1="320.6" y1="0" x2="540.4" y2="0"><stop offset="0.0125" stop-color="#ff7800"/><stop offset="0.0375" stop-color="#ff7800"/><stop offset="0.0625" stop-color="#ff5200"/><stop offset="0.0875" stop-color="#f01800"/><stop offset="0.1125" stop-color="#ffa200"/><stop offset="0.1375" stop-color="#0cf4fc"/><stop offset="0.2125" stop-color="#0cf4fc"/><stop offset="0.2375" stop-color="#48ffc0"/><stop offset="0.2625" stop-color="#48ffc0"/><stop offset="0.2875" stop-color="#fffa08"/><stop offset="0.3125" stop-color="#ffa200"/><stop offset="0.3375" stop-color="#ff7800"/><stop offset="0.3625" stop-color="#ffa200"/><stop offset="0.3875" stop-color="#c8ff40"/><stop offset="0.4125" stop-color="#0cf4fc"/><stop offset="0.4375" stop-color="#08b8ff"/><stop offset="0.4625" stop-color="#0c78ff"/><stop offset="0.4875" stop-color="#0c78ff"/><stop offset="0.5125" stop-color="#0cf4fc"/><stop offset="0.5375" stop-color="#0cf4fc"/><stop offset="0.5625" stop-color="#48ffc0"/><stop offset="0.5875" stop-color="#c8ff40"/><stop offset="0.6125" stop-color="#84ff84"/><stop offset="0.6875" stop-color="#84ff84"/><stop offset="0.7125" stop-color="#c8ff40"/><stop offset="0.7375" stop-color="#fffa08"/><stop offset="0.7625" stop-color="#fffa08"/><stop offset="0.7875" stop-color="#48ffc0"/><stop offset="0.8125" stop-color="#fffa08"/><stop offset="0.8375" stop-color="#48ffc0"/><stop offset="0.8625" stop-color="#fffa08"/><stop offset="0.8875" stop-color="#48ffc0"/><stop offset="0.9125" stop-color="#ffd200"/><stop offset="0.9375" stop-color="#c8ff40"/><stop offset="0.9625" stop-color="#ff5200"/><stop offset="0.9875" stop-color="#ffa200"/></linearGradient>
<linearGradient id="gf6" gradientUnits="userSpaceOnUse" x1="320.6" y1="0" x2="540.4" y2="0"><stop offset="0.0125" stop-color="#ff7800"/><stop offset="0.0375" stop-color="#ff7800"/><stop offset="0.0625" stop-color="#f01800"/><stop offset="0.0875" stop-color="#ff5200"/><stop offset="0.1125" stop-color="#ffa200"/><stop offset="0.1375" stop-color="#48ffc0"/><stop offset="0.1625" stop-color="#0cf4fc"/><stop offset="0.2875" stop-color="#0cf4fc"/><stop offset="0.3125" stop-color="#48ffc0"/><stop offset="0.3375" stop-color="#ffa200"/><stop offset="0.3625" stop-color="#48ffc0"/><stop offset="0.3875" stop-color="#0cf4fc"/><stop offset="0.4125" stop-color="#08b8ff"/><stop offset="0.4375" stop-color="#08b8ff"/><stop offset="0.4625" stop-color="#0cf4fc"/><stop offset="0.4875" stop-color="#08b8ff"/><stop offset="0.5125" stop-color="#0cf4fc"/><stop offset="0.5875" stop-color="#0cf4fc"/><stop offset="0.6125" stop-color="#48ffc0"/><stop offset="0.6875" stop-color="#48ffc0"/><stop offset="0.7125" stop-color="#c8ff40"/><stop offset="0.7375" stop-color="#fffa08"/><stop offset="0.7625" stop-color="#48ffc0"/><stop offset="0.8875" stop-color="#48ffc0"/><stop offset="0.9125" stop-color="#ffa200"/><stop offset="0.9375" stop-color="#48ffc0"/><stop offset="0.9625" stop-color="#0cf4fc"/><stop offset="0.9875" stop-color="#ff5200"/></linearGradient>
<linearGradient id="gf7" gradientUnits="userSpaceOnUse" x1="320.6" y1="0" x2="540.4" y2="0"><stop offset="0.0125" stop-color="#ff7800"/><stop offset="0.0375" stop-color="#ff7800"/><stop offset="0.0625" stop-color="#ff5200"/><stop offset="0.0875" stop-color="#ff7800"/><stop offset="0.1375" stop-color="#ff7800"/><stop offset="0.1625" stop-color="#48ffc0"/><stop offset="0.1875" stop-color="#0cf4fc"/><stop offset="0.2375" stop-color="#0cf4fc"/><stop offset="0.2625" stop-color="#ff7800"/><stop offset="0.3875" stop-color="#ff7800"/><stop offset="0.4125" stop-color="#48ffc0"/><stop offset="0.4375" stop-color="#0cf4fc"/><stop offset="0.4625" stop-color="#48ffc0"/><stop offset="0.4875" stop-color="#0cf4fc"/><stop offset="0.6875" stop-color="#0cf4fc"/><stop offset="0.7125" stop-color="#fffa08"/><stop offset="0.7375" stop-color="#fffa08"/><stop offset="0.7625" stop-color="#48ffc0"/><stop offset="0.9625" stop-color="#48ffc0"/><stop offset="0.9875" stop-color="#ff5200"/></linearGradient>
<linearGradient id="gf8" gradientUnits="userSpaceOnUse" x1="320.6" y1="0" x2="540.4" y2="0"><stop offset="0.0125" stop-color="#ff7800"/><stop offset="0.9875" stop-color="#ff7800"/></linearGradient>
<linearGradient id="gf9" gradientUnits="userSpaceOnUse" x1="320.6" y1="0" x2="540.4" y2="0"><stop offset="0.0125" stop-color="#ff7800"/><stop offset="0.9875" stop-color="#ff7800"/></linearGradient>
<linearGradient id="gf10" gradientUnits="userSpaceOnUse" x1="320.6" y1="0" x2="540.4" y2="0"><stop offset="0.0125" stop-color="#ff7800"/><stop offset="0.0625" stop-color="#ff7800"/><stop offset="0.0875" stop-color="#ffa200"/><stop offset="0.1375" stop-color="#ffa200"/><stop offset="0.1625" stop-color="#ff7800"/><stop offset="0.7125" stop-color="#ff7800"/><stop offset="0.7375" stop-color="#ffa200"/><stop offset="0.7625" stop-color="#ffa200"/><stop offset="0.7875" stop-color="#ff7800"/><stop offset="0.9875" stop-color="#ff7800"/></linearGradient>
<linearGradient id="gf11" gradientUnits="userSpaceOnUse" x1="320.6" y1="0" x2="540.4" y2="0"><stop offset="0.0125" stop-color="#ff7800"/><stop offset="0.0625" stop-color="#ff7800"/><stop offset="0.0875" stop-color="#ffa200"/><stop offset="0.1375" stop-color="#ffa200"/><stop offset="0.1625" stop-color="#ff7800"/><stop offset="0.2375" stop-color="#ff7800"/><stop offset="0.2625" stop-color="#ffa200"/><stop offset="0.2875" stop-color="#ff7800"/><stop offset="0.7125" stop-color="#ff7800"/><stop offset="0.7375" stop-color="#ffa200"/><stop offset="0.7625" stop-color="#ffa200"/><stop offset="0.7875" stop-color="#ff7800"/><stop offset="0.9875" stop-color="#ff7800"/></linearGradient>
<clipPath id="cpf"><rect x="320.6" y="305.6" width="219.8" height="49.1"/></clipPath>
</defs>
<g clip-path="url(#cpf)">
<g filter="url(#bl)">
<rect x="312.6" y="298.3" width="235.8" height="12.10" fill="url(#gf0)"/>
<rect x="312.6" y="310.3" width="235.8" height="4.10" fill="url(#gf1)"/>
<rect x="312.6" y="314.3" width="235.8" height="4.10" fill="url(#gf2)"/>
<rect x="312.6" y="318.3" width="235.8" height="4.10" fill="url(#gf3)"/>
<rect x="312.6" y="322.3" width="235.8" height="4.10" fill="url(#gf4)"/>
<rect x="312.6" y="326.3" width="235.8" height="4.10" fill="url(#gf5)"/>
<rect x="312.6" y="330.3" width="235.8" height="4.10" fill="url(#gf6)"/>
<rect x="312.6" y="334.3" width="235.8" height="4.10" fill="url(#gf7)"/>
<rect x="312.6" y="338.3" width="235.8" height="4.10" fill="url(#gf8)"/>
<rect x="312.6" y="342.3" width="235.8" height="4.10" fill="url(#gf9)"/>
<rect x="312.6" y="346.3" width="235.8" height="4.10" fill="url(#gf10)"/>
<rect x="312.6" y="350.3" width="235.8" height="14.10" fill="url(#gf11)"/>
</g>
<path d="M349.3,342.2V333.6L359.3,339.9V342.2zM359.3,342.2V333.6L369.3,339.9V342.2zM369.3,342.2V333.6L379.3,339.9V342.2zM409.2,342.2V333.6L419.1,339.9V342.2zM419.1,342.2V333.6L429.1,339.9V342.2zM429.1,342.2V333.6L439.1,339.9V342.2zM439.1,342.2V333.6L449.0,339.9V342.2zM449.0,342.2V333.6L459.0,339.9V342.2zM459.0,342.2V333.6L469.0,339.9V342.2zM469.0,342.2V333.6L479.0,339.9V342.2zM479.0,342.2V333.6L488.9,339.9V342.2zM488.9,342.2V333.6L498.9,339.9V342.2zM498.9,342.2V333.6L508.9,339.9V342.2zM508.9,342.2V333.6L518.8,339.9V342.2zM518.8,342.2V333.6L528.8,339.9V342.2zM528.8,342.2V333.6L538.8,339.9V342.2z" fill="url(#gf8)"/>
<path d="M349.3,339.1V333.9L351.5,339.1zM359.3,339.1V333.9L361.5,339.1zM369.3,339.1V333.9L371.5,339.1zM409.2,339.1V333.9L411.4,339.1zM419.1,339.1V333.9L421.3,339.1zM429.1,339.1V333.9L431.3,339.1zM439.1,339.1V333.9L441.3,339.1zM449.0,339.1V333.9L451.2,339.1zM459.0,339.1V333.9L461.2,339.1zM469.0,339.1V333.9L471.2,339.1zM479.0,339.1V333.9L481.2,339.1zM488.9,339.1V333.9L491.1,339.1zM498.9,339.1V333.9L501.1,339.1zM508.9,339.1V333.9L511.1,339.1zM518.8,339.1V333.9L521.0,339.1zM528.8,339.1V333.9L531.0,339.1z" fill="#f4401a" opacity="0.75"/>
<path d="M490.9,334.0L498.0,331.0V337.6zM500.9,334.0L508.0,331.0V337.6zM510.9,334.0L517.9,331.0V337.6zM520.8,334.0L527.9,331.0V337.6zM520.8,334.0L527.9,331.0V337.6zM530.8,334.0L537.9,331.0V337.6zM540.8,334.0L547.8,331.0V337.6z" fill="#50f4c0" opacity="0.85"/>
<path d="M519.1,335.5Q521.3,328.5 531.3,322.5M529.1,335.5Q531.3,328.5 541.3,322.5M539.1,335.5Q541.3,328.5 551.3,322.5" fill="none" stroke="#ff3c00" stroke-width="1.1" stroke-linecap="round" opacity="0.75"/>
<path d="M519.3,333.8L527.4,339.0M529.3,333.8L537.4,339.0M539.3,333.8L547.4,339.0" fill="none" stroke="#fff0a0" stroke-width="0.7" opacity="0.85"/>
</g>
<line x1="322.1" y1="330.4" x2="539.9" y2="330.4" stroke="#0a0a0a" stroke-width="1.7" stroke-dasharray="3.9 2.3"/>
<rect x="320.6" y="306.4" width="219.8" height="48.3" fill="none" stroke="#111" stroke-width="1.25"/>
<text transform="translate(323.3,343.4) scale(1,1.09)" font-size="12.30" class="r" style="fill:#1c0c04;stroke:#1c0c04;stroke-width:0.18">Pressure measurement position</text>
<text x="317.0" y="314.2" font-size="9.25" class="b" text-anchor="end">Ps (Pa)</text>
<rect x="308.6" y="320.4" width="4.6" height="33.1" fill="url(#cb)"/>
<text transform="translate(305.6,324.8) scale(1.08,1)" font-size="7.2" class="b" text-anchor="end" style="stroke:#111;stroke-width:0.22">160,000</text>
<text transform="translate(306.2,355.0) scale(1.08,1)" font-size="7.2" class="b" text-anchor="end" style="stroke:#111;stroke-width:0.22">0</text>
<line x1="320.6" y1="364.9" x2="540.4" y2="364.9" class="g"/>
<line x1="320.6" y1="384.3" x2="540.4" y2="384.3" class="g"/>
<line x1="320.6" y1="403.5" x2="540.4" y2="403.5" class="g"/>
<line x1="357.2" y1="355.3" x2="357.2" y2="412.7" class="v"/>
<line x1="393.9" y1="355.3" x2="393.9" y2="412.7" class="v"/>
<line x1="430.5" y1="355.3" x2="430.5" y2="412.7" class="v"/>
<line x1="467.1" y1="355.3" x2="467.1" y2="412.7" class="v"/>
<line x1="503.8" y1="355.3" x2="503.8" y2="412.7" class="v"/>
<line x1="540.4" y1="355.3" x2="540.4" y2="412.7" class="v"/>
<path d="M320.6,354.7V412.7H540.7" fill="none" stroke="#3a3a3a" stroke-width="0.9"/>
<path d="M320.6,364.9h-2M320.6,384.3h-2M320.6,403.5h-2M320.6,374.5h-1.2M320.6,394.0h-1.2M320.6,412.7v2M357.2,412.7v2M393.9,412.7v2M430.5,412.7v2M467.1,412.7v2M503.8,412.7v2M540.4,412.7v2M338.9,412.7v1.2M375.6,412.7v1.2M412.2,412.7v1.2M448.8,412.7v1.2M485.4,412.7v1.2M522.1,412.7v1.2" stroke="#3a3a3a" stroke-width="0.8" fill="none"/>
<text transform="translate(316.6,367.9) scale(1.08,1)" font-size="7.2" class="b" text-anchor="end" style="stroke:#111;stroke-width:0.22">120,000</text>
<text transform="translate(316.6,387.3) scale(1.08,1)" font-size="7.2" class="b" text-anchor="end" style="stroke:#111;stroke-width:0.22">8,000</text>
<text transform="translate(316.6,406.5) scale(1.08,1)" font-size="7.2" class="b" text-anchor="end" style="stroke:#111;stroke-width:0.22">4,000</text>
<text transform="translate(289.6,386.2) rotate(-90)" font-size="9.2" class="b" text-anchor="middle">Ps (Pa)</text>
<text x="320.9" y="424.8" font-size="7.7" class="b" text-anchor="middle">0</text>
<text x="357.5" y="424.8" font-size="7.7" class="b" text-anchor="middle">60</text>
<text x="394.2" y="424.8" font-size="7.7" class="b" text-anchor="middle">120</text>
<text x="430.8" y="424.8" font-size="7.7" class="b" text-anchor="middle">180</text>
<text x="467.4" y="424.8" font-size="7.7" class="b" text-anchor="middle">240</text>
<text x="504.1" y="424.8" font-size="7.7" class="b" text-anchor="middle">300</text>
<text x="540.7" y="424.8" font-size="7.7" class="b" text-anchor="middle">360</text>
<text x="430.5" y="435.0" font-size="9.3" class="b" text-anchor="middle">Theta (degree)</text>
<path d="M378.5,330.4V354.7M406.3,330.4V354.7" stroke="#b81410" stroke-width="0.7" fill="none" opacity="0.75"/>
<path d="M378.5,354.7V412.7M406.3,354.7V412.7" stroke="#e8282c" stroke-width="0.9" fill="none"/>
<path d="M381.5,401.7H403.3" stroke="#d4151b" stroke-width="1.1"/>
<path d="M379.2,401.7l7.0,-3.3v6.6zM405.6,401.7l-7.0,-3.3v6.6z" fill="#cc0f16"/>
<path d="M320.6,363.5C321.0,364.1 322.3,367.3 323.1,367.4C324.0,367.5 324.4,364.7 325.7,363.9C327.0,363.1 329.2,363.6 330.8,362.4C332.4,361.3 334.0,358.0 335.2,356.9C336.4,355.9 337.2,355.2 338.1,356.2C339.0,357.2 339.7,361.1 340.6,363.0C341.4,365.0 342.3,365.0 343.2,367.8C344.1,370.7 345.1,376.9 346.1,380.2C347.1,383.5 347.8,386.4 349.0,387.7C350.2,389.1 351.8,389.0 353.4,388.2C354.9,387.4 356.9,383.5 358.5,383.1C360.0,382.7 361.4,385.4 362.8,386.0C364.3,386.6 365.6,386.2 367.2,386.7C368.8,387.2 370.9,387.2 372.3,388.9C373.6,390.6 374.3,396.7 375.2,396.9C376.0,397.2 376.6,392.9 377.4,390.4C378.1,387.8 378.5,383.3 379.5,381.6C380.6,379.9 382.6,381.5 383.9,380.2C385.2,378.8 385.8,374.0 387.1,373.6C388.4,373.3 390.6,378.7 391.9,378.0C393.2,377.3 393.8,371.0 394.8,369.3C395.8,367.5 397.0,366.9 397.8,367.4C398.6,367.9 399.0,369.9 399.6,372.2C400.2,374.4 400.8,379.3 401.5,380.9C402.1,382.5 402.8,379.3 403.6,381.6C404.4,383.9 405.4,392.1 406.3,394.7C407.1,397.3 407.7,395.9 408.7,397.3C409.7,398.8 410.9,402.6 412.4,403.2C413.8,403.7 416.0,401.0 417.5,400.5C418.9,400.1 419.6,401.0 421.1,400.3C422.5,399.5 424.6,396.4 426.2,395.9C427.8,395.4 429.0,398.0 430.5,397.3C432.1,396.7 434.3,392.7 435.6,392.1C437.0,391.5 437.6,393.0 438.5,393.6C439.5,394.1 440.5,396.6 441.5,395.5C442.4,394.3 443.3,389.2 444.4,386.7C445.5,384.2 446.5,381.2 448.0,380.5C449.5,379.7 451.5,382.0 453.1,382.4C454.7,382.7 455.8,381.9 457.5,382.4C459.2,382.8 462.0,384.9 463.3,385.3C464.5,385.6 464.2,385.0 465.0,384.5C465.8,384.1 467.6,383.2 468.4,382.8C469.1,382.4 468.5,382.2 469.4,382.4C470.3,382.5 472.2,384.2 473.7,383.8C475.2,383.4 476.9,380.0 478.4,379.9C479.9,379.8 481.3,384.0 482.7,383.1C484.2,382.2 485.5,374.8 486.8,374.7C488.1,374.5 489.5,380.7 490.5,381.9C491.4,383.1 491.7,383.4 492.6,381.9C493.5,380.5 494.7,373.1 495.8,373.2C497.0,373.3 498.6,380.8 499.6,382.4C500.7,383.9 501.1,384.0 502.1,382.4C503.1,380.7 504.5,372.7 505.7,372.6C506.9,372.5 508.4,380.2 509.4,381.6C510.3,383.1 510.6,382.8 511.5,381.3C512.5,379.8 514.0,372.7 515.2,372.6C516.3,372.5 517.7,379.6 518.5,380.9C519.4,382.2 519.5,383.5 520.3,380.5C521.0,377.5 522.0,363.3 522.9,363.0C523.8,362.7 524.9,375.7 525.8,378.7C526.7,381.8 527.5,384.8 528.3,381.3C529.0,377.9 529.6,359.7 530.5,358.1C531.3,356.4 532.3,367.5 533.4,371.5C534.4,375.4 535.7,384.0 536.6,381.9C537.4,379.9 537.8,362.6 538.5,359.1C539.1,355.6 540.0,360.7 540.3,361.0" fill="none" stroke="#161616" stroke-width="1.45" stroke-linejoin="round" stroke-linecap="round"/>
<text x="413.3" y="452.4" font-size="12.2" class="r" text-anchor="middle">(<tspan style="font-weight:bold">f</tspan>)</text>
</g>
</svg>
</body>
</html>
